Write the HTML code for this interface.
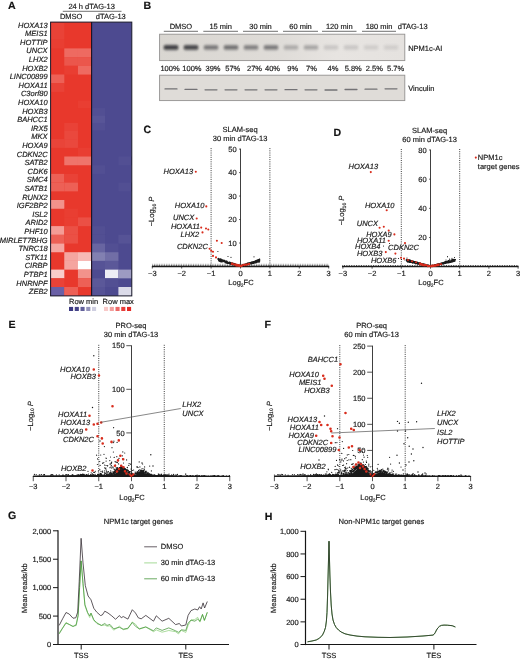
<!DOCTYPE html>
<html><head><meta charset="utf-8"><title>Figure</title>
<style>
html,body{margin:0;padding:0;background:#fff;}
body{width:520px;height:660px;overflow:hidden;}
svg{display:block;font-family:"Liberation Sans",sans-serif;font-size:7.5px;fill:#1c1c1c;text-rendering:geometricPrecision;}
text{stroke:#1c1c1c;stroke-width:0.18px;}
</style></head><body>
<svg width="520" height="660" viewBox="0 0 520 660">
<rect width="520" height="660" fill="#ffffff"/>
<text x="8.00" y="9.00" font-weight="bold" font-size="10.6" fill="#111">A</text>
<text x="143.50" y="9.00" font-weight="bold" font-size="10.6" fill="#111">B</text>
<text x="143.40" y="132.60" font-weight="bold" font-size="10.6" fill="#111">C</text>
<text x="333.50" y="136.00" font-weight="bold" font-size="10.6" fill="#111">D</text>
<text x="8.40" y="327.80" font-weight="bold" font-size="10.6" fill="#111">E</text>
<text x="264.50" y="327.90" font-weight="bold" font-size="10.6" fill="#111">F</text>
<text x="8.00" y="519.40" font-weight="bold" font-size="10.6" fill="#111">G</text>
<text x="264.70" y="520.00" font-weight="bold" font-size="10.6" fill="#111">H</text>
<rect x="50.60" y="22.10" width="41.00" height="273.80" fill="#e8382c"/>
<rect x="91.60" y="22.10" width="40.20" height="273.80" fill="#4d4a90"/>
<rect x="50.60" y="22.10" width="13.72" height="8.95" fill="#e94237"/>
<text x="47.60" y="27.50" font-style="italic" text-anchor="end">HOXA13</text>
<rect x="50.60" y="31.00" width="13.72" height="8.75" fill="#e94237"/>
<text x="47.60" y="36.10" font-style="italic" text-anchor="end">MEIS1</text>
<rect x="50.60" y="39.70" width="13.72" height="8.75" fill="#e93e32"/>
<text x="47.60" y="44.70" font-style="italic" text-anchor="end">HOTTIP</text>
<rect x="64.27" y="48.40" width="13.72" height="8.75" fill="#ee6a61"/>
<rect x="77.93" y="48.40" width="13.72" height="8.75" fill="#ee6a61"/>
<text x="47.60" y="53.30" font-style="italic" text-anchor="end">UNCX</text>
<rect x="64.27" y="57.10" width="13.72" height="8.75" fill="#eb564c"/>
<rect x="77.93" y="57.10" width="13.72" height="8.75" fill="#eb564c"/>
<text x="47.60" y="61.90" font-style="italic" text-anchor="end">LHX2</text>
<rect x="64.27" y="65.80" width="13.72" height="8.75" fill="#e93e32"/>
<rect x="77.93" y="65.80" width="13.72" height="8.75" fill="#ee6a61"/>
<text x="47.60" y="70.50" font-style="italic" text-anchor="end">HOXB2</text>
<rect x="50.60" y="74.50" width="13.72" height="8.75" fill="#ed6056"/>
<text x="47.60" y="79.10" font-style="italic" text-anchor="end">LINC00899</text>
<rect x="50.60" y="83.20" width="13.72" height="8.75" fill="#e94237"/>
<text x="47.60" y="87.70" font-style="italic" text-anchor="end">HOXA11</text>
<text x="47.60" y="96.30" font-style="italic" text-anchor="end">C3orf80</text>
<rect x="77.93" y="100.60" width="13.72" height="7.50" fill="#e93e32"/>
<text x="47.60" y="104.90" font-style="italic" text-anchor="end">HOXA10</text>
<rect x="91.60" y="108.05" width="13.45" height="7.50" fill="#524f93"/>
<text x="47.60" y="113.50" font-style="italic" text-anchor="end">HOXB3</text>
<rect x="91.60" y="115.50" width="13.45" height="7.50" fill="#585597"/>
<text x="47.60" y="122.10" font-style="italic" text-anchor="end">BAHCC1</text>
<rect x="64.27" y="122.95" width="13.72" height="7.50" fill="#e94237"/>
<rect x="91.60" y="122.95" width="13.45" height="7.50" fill="#524f93"/>
<text x="47.60" y="130.70" font-style="italic" text-anchor="end">IRX5</text>
<rect x="64.27" y="130.40" width="13.72" height="8.75" fill="#ea483d"/>
<text x="47.60" y="139.30" font-style="italic" text-anchor="end">MKX</text>
<rect x="50.60" y="139.10" width="13.72" height="8.75" fill="#e94439"/>
<rect x="64.27" y="139.10" width="13.72" height="8.75" fill="#ea483d"/>
<text x="47.60" y="147.90" font-style="italic" text-anchor="end">HOXA9</text>
<rect x="77.93" y="147.80" width="13.72" height="8.75" fill="#e93e32"/>
<text x="47.60" y="156.50" font-style="italic" text-anchor="end">CDKN2C</text>
<rect x="64.27" y="156.50" width="13.72" height="8.75" fill="#ef746b"/>
<rect x="77.93" y="156.50" width="13.72" height="8.75" fill="#ef746b"/>
<rect x="118.40" y="156.50" width="13.45" height="8.75" fill="#524f93"/>
<text x="47.60" y="165.10" font-style="italic" text-anchor="end">SATB2</text>
<rect x="91.60" y="165.20" width="13.45" height="8.75" fill="#524f93"/>
<text x="47.60" y="173.70" font-style="italic" text-anchor="end">CDK6</text>
<rect x="50.60" y="173.90" width="13.72" height="8.75" fill="#ed6056"/>
<rect x="64.27" y="173.90" width="13.72" height="8.75" fill="#e94237"/>
<text x="47.60" y="182.30" font-style="italic" text-anchor="end">SMC4</text>
<rect x="50.60" y="182.60" width="13.72" height="8.75" fill="#ed6056"/>
<rect x="64.27" y="182.60" width="13.72" height="8.75" fill="#ed6056"/>
<rect x="118.40" y="182.60" width="13.45" height="8.75" fill="#524f93"/>
<text x="47.60" y="190.90" font-style="italic" text-anchor="end">SATB1</text>
<text x="47.60" y="199.50" font-style="italic" text-anchor="end">RUNX2</text>
<rect x="50.60" y="200.00" width="13.72" height="8.75" fill="#f2928b"/>
<text x="47.60" y="208.10" font-style="italic" text-anchor="end">IGF2BP2</text>
<rect x="64.27" y="208.70" width="13.72" height="8.75" fill="#e93e32"/>
<text x="47.60" y="216.70" font-style="italic" text-anchor="end">ISL2</text>
<rect x="64.27" y="217.40" width="13.72" height="8.75" fill="#e93e32"/>
<rect x="77.93" y="217.40" width="13.72" height="8.75" fill="#eb5045"/>
<text x="47.60" y="225.30" font-style="italic" text-anchor="end">ARID2</text>
<rect x="50.60" y="226.10" width="13.72" height="8.75" fill="#f49c96"/>
<rect x="64.27" y="226.10" width="13.72" height="8.75" fill="#eb5045"/>
<rect x="91.60" y="226.10" width="13.45" height="8.75" fill="#524f93"/>
<text x="47.60" y="233.90" font-style="italic" text-anchor="end">PHF10</text>
<rect x="50.60" y="234.80" width="13.72" height="8.75" fill="#ed6056"/>
<rect x="64.27" y="234.80" width="13.72" height="8.75" fill="#eb5045"/>
<rect x="91.60" y="234.80" width="13.45" height="8.75" fill="#524f93"/>
<rect x="118.40" y="234.80" width="13.45" height="8.75" fill="#565396"/>
<text x="47.60" y="242.50" font-style="italic" text-anchor="end">MIRLET7BHG</text>
<rect x="50.60" y="243.50" width="13.72" height="8.75" fill="#f5a5a0"/>
<rect x="91.60" y="243.50" width="13.45" height="8.75" fill="#6865a1"/>
<rect x="105.00" y="243.50" width="13.45" height="8.75" fill="#524f93"/>
<text x="47.60" y="251.10" font-style="italic" text-anchor="end">TNRC18</text>
<rect x="64.27" y="252.20" width="13.72" height="8.75" fill="#f5a5a0"/>
<rect x="77.93" y="252.20" width="13.72" height="8.75" fill="#f7b9b5"/>
<rect x="91.60" y="252.20" width="13.45" height="8.75" fill="#8280b1"/>
<rect x="105.00" y="252.20" width="13.45" height="8.75" fill="#716ea6"/>
<text x="47.60" y="259.70" font-style="italic" text-anchor="end">STK11</text>
<rect x="64.27" y="260.90" width="13.72" height="8.75" fill="#f5a5a0"/>
<rect x="77.93" y="260.90" width="13.72" height="8.75" fill="#ffffff"/>
<rect x="91.60" y="260.90" width="13.45" height="8.75" fill="#565396"/>
<rect x="105.00" y="260.90" width="13.45" height="8.75" fill="#5b5899"/>
<text x="47.60" y="268.30" font-style="italic" text-anchor="end">CIRBP</text>
<rect x="50.60" y="269.60" width="13.72" height="8.75" fill="#f9cdca"/>
<rect x="77.93" y="269.60" width="13.72" height="8.75" fill="#f2928b"/>
<rect x="105.00" y="269.60" width="13.45" height="8.75" fill="#ededf4"/>
<rect x="118.40" y="269.60" width="13.45" height="8.75" fill="#9d9bc2"/>
<text x="47.60" y="276.90" font-style="italic" text-anchor="end">PTBP1</text>
<rect x="50.60" y="278.30" width="13.72" height="8.75" fill="#e94237"/>
<rect x="77.93" y="278.30" width="13.72" height="8.75" fill="#ed6056"/>
<rect x="91.60" y="278.30" width="13.45" height="8.75" fill="#5b5899"/>
<rect x="105.00" y="278.30" width="13.45" height="8.75" fill="#524f93"/>
<text x="47.60" y="285.50" font-style="italic" text-anchor="end">HNRNPF</text>
<rect x="50.60" y="287.00" width="13.72" height="8.95" fill="#6a60a6"/>
<rect x="64.27" y="287.00" width="13.72" height="8.95" fill="#ed6056"/>
<rect x="91.60" y="287.00" width="13.45" height="8.95" fill="#565396"/>
<rect x="118.40" y="287.00" width="13.45" height="8.95" fill="#dbdbe9"/>
<text x="47.60" y="294.10" font-style="italic" text-anchor="end">ZEB2</text>
<rect x="50.6" y="22.1" width="81.20" height="273.80" fill="none" stroke="#1a1a2a" stroke-width="1"/>
<line x1="91.60" y1="22.10" x2="91.60" y2="295.90" stroke="#1a1020" stroke-width="1.1"/>
<text x="91.70" y="9.00" text-anchor="middle">24 h dTAG-13</text>
<line x1="62.80" y1="11.30" x2="121.50" y2="11.30" stroke="#333" stroke-width="0.7"/>
<text x="71.20" y="19.00" text-anchor="middle">DMSO</text>
<text x="110.80" y="19.00" text-anchor="middle">dTAG-13</text>
<text x="69.00" y="304.20">Row min</text>
<text x="102.60" y="304.20">Row max</text>
<rect x="69.00" y="306.90" width="4.10" height="4.10" fill="#3c3a82"/>
<rect x="74.75" y="306.90" width="4.10" height="4.10" fill="#464488"/>
<rect x="80.50" y="306.90" width="4.10" height="4.10" fill="#63619b"/>
<rect x="86.25" y="306.90" width="4.10" height="4.10" fill="#9493ba"/>
<rect x="92.00" y="306.90" width="4.10" height="4.10" fill="#cecee0"/>
<rect x="104.00" y="306.90" width="4.10" height="4.10" fill="#f8c9c8"/>
<rect x="109.75" y="306.90" width="4.10" height="4.10" fill="#f39e9c"/>
<rect x="115.50" y="306.90" width="4.10" height="4.10" fill="#ec6866"/>
<rect x="121.25" y="306.90" width="4.10" height="4.10" fill="#e73e3a"/>
<rect x="127.00" y="306.90" width="4.10" height="4.10" fill="#e42824"/>
<defs><filter id="b1" x="-30%" y="-80%" width="160%" height="260%"><feGaussianBlur stdDeviation="0.9 0.8"/></filter><filter id="b2" x="-30%" y="-200%" width="160%" height="500%"><feGaussianBlur stdDeviation="0.45"/></filter><linearGradient id="g1" x1="0" x2="1" y1="0" y2="0"><stop offset="0" stop-color="#d9d6d1"/><stop offset="0.5" stop-color="#dfdcd8"/><stop offset="0.72" stop-color="#e7e4e1"/><stop offset="1" stop-color="#e5e2df"/></linearGradient></defs>
<rect x="159.6" y="34.2" width="245.2" height="26.4" fill="url(#g1)" stroke="#939190" stroke-width="0.9"/>
<rect x="159.6" y="75.2" width="245.2" height="25.4" fill="#dfdcd8" stroke="#939190" stroke-width="0.9"/>
<rect x="163.6" y="44.4" width="14.8" height="6.2" rx="2" fill="#58585c" opacity="0.66" filter="url(#b1)"/>
<rect x="164.2" y="45.9" width="13.6" height="2.8" rx="1.2" fill="#1e1e22" opacity="0.75" filter="url(#b1)"/>
<rect x="183.6" y="44.4" width="14.8" height="6.2" rx="2" fill="#58585c" opacity="0.61" filter="url(#b1)"/>
<rect x="184.2" y="45.9" width="13.6" height="2.8" rx="1.2" fill="#1e1e22" opacity="0.69" filter="url(#b1)"/>
<rect x="203.6" y="44.4" width="14.8" height="6.2" rx="2" fill="#58585c" opacity="0.36" filter="url(#b1)"/>
<rect x="204.2" y="45.9" width="13.6" height="2.8" rx="1.2" fill="#1e1e22" opacity="0.39" filter="url(#b1)"/>
<rect x="223.6" y="44.4" width="14.8" height="6.2" rx="2" fill="#58585c" opacity="0.39" filter="url(#b1)"/>
<rect x="224.2" y="45.9" width="13.6" height="2.8" rx="1.2" fill="#1e1e22" opacity="0.43" filter="url(#b1)"/>
<rect x="243.6" y="44.4" width="14.8" height="6.2" rx="2" fill="#58585c" opacity="0.33" filter="url(#b1)"/>
<rect x="244.2" y="45.9" width="13.6" height="2.8" rx="1.2" fill="#1e1e22" opacity="0.35" filter="url(#b1)"/>
<rect x="263.6" y="44.4" width="14.8" height="6.2" rx="2" fill="#58585c" opacity="0.36" filter="url(#b1)"/>
<rect x="264.2" y="45.9" width="13.6" height="2.8" rx="1.2" fill="#1e1e22" opacity="0.39" filter="url(#b1)"/>
<rect x="283.6" y="44.4" width="14.8" height="6.2" rx="2" fill="#58585c" opacity="0.18" filter="url(#b1)"/>
<rect x="284.2" y="45.9" width="13.6" height="2.8" rx="1.2" fill="#1e1e22" opacity="0.17" filter="url(#b1)"/>
<rect x="303.6" y="44.4" width="14.8" height="6.2" rx="2" fill="#58585c" opacity="0.20" filter="url(#b1)"/>
<rect x="304.2" y="45.9" width="13.6" height="2.8" rx="1.2" fill="#1e1e22" opacity="0.20" filter="url(#b1)"/>
<rect x="323.6" y="44.4" width="14.8" height="6.2" rx="2" fill="#58585c" opacity="0.10" filter="url(#b1)"/>
<rect x="324.2" y="45.9" width="13.6" height="2.8" rx="1.2" fill="#1e1e22" opacity="0.08" filter="url(#b1)"/>
<rect x="343.6" y="44.4" width="14.8" height="6.2" rx="2" fill="#58585c" opacity="0.10" filter="url(#b1)"/>
<rect x="344.2" y="45.9" width="13.6" height="2.8" rx="1.2" fill="#1e1e22" opacity="0.08" filter="url(#b1)"/>
<rect x="363.6" y="44.4" width="14.8" height="6.2" rx="2" fill="#58585c" opacity="0.08" filter="url(#b1)"/>
<rect x="364.2" y="45.9" width="13.6" height="2.8" rx="1.2" fill="#1e1e22" opacity="0.06" filter="url(#b1)"/>
<rect x="383.6" y="44.4" width="14.8" height="6.2" rx="2" fill="#58585c" opacity="0.08" filter="url(#b1)"/>
<rect x="384.2" y="45.9" width="13.6" height="2.8" rx="1.2" fill="#1e1e22" opacity="0.05" filter="url(#b1)"/>
<rect x="164.4" y="88.25" width="13.2" height="1.3" rx="0.6" fill="#505055" opacity="0.75" filter="url(#b2)"/>
<rect x="184.4" y="88.75" width="13.2" height="1.3" rx="0.6" fill="#505055" opacity="0.75" filter="url(#b2)"/>
<rect x="204.4" y="89.15" width="13.2" height="1.3" rx="0.6" fill="#505055" opacity="0.75" filter="url(#b2)"/>
<rect x="224.4" y="89.15" width="13.2" height="1.3" rx="0.6" fill="#505055" opacity="0.75" filter="url(#b2)"/>
<rect x="244.4" y="89.15" width="13.2" height="1.3" rx="0.6" fill="#505055" opacity="0.75" filter="url(#b2)"/>
<rect x="264.4" y="89.15" width="13.2" height="1.3" rx="0.6" fill="#505055" opacity="0.75" filter="url(#b2)"/>
<rect x="284.4" y="88.95" width="13.2" height="1.3" rx="0.6" fill="#505055" opacity="0.75" filter="url(#b2)"/>
<rect x="304.4" y="89.15" width="13.2" height="1.3" rx="0.6" fill="#505055" opacity="0.75" filter="url(#b2)"/>
<rect x="324.4" y="89.35" width="13.2" height="1.3" rx="0.6" fill="#505055" opacity="0.75" filter="url(#b2)"/>
<rect x="344.4" y="88.85" width="13.2" height="1.3" rx="0.6" fill="#505055" opacity="0.75" filter="url(#b2)"/>
<rect x="364.4" y="88.55" width="13.2" height="1.3" rx="0.6" fill="#505055" opacity="0.75" filter="url(#b2)"/>
<rect x="384.4" y="88.15" width="13.2" height="1.3" rx="0.6" fill="#505055" opacity="0.75" filter="url(#b2)"/>
<line x1="163.80" y1="31.30" x2="198.00" y2="31.30" stroke="#333" stroke-width="0.7"/>
<text x="180.90" y="29.00" text-anchor="middle">DMSO</text>
<line x1="203.30" y1="31.30" x2="238.00" y2="31.30" stroke="#333" stroke-width="0.7"/>
<text x="220.65" y="29.00" text-anchor="middle">15 min</text>
<line x1="243.00" y1="31.30" x2="278.00" y2="31.30" stroke="#333" stroke-width="0.7"/>
<text x="260.50" y="29.00" text-anchor="middle">30 min</text>
<line x1="283.00" y1="31.30" x2="318.00" y2="31.30" stroke="#333" stroke-width="0.7"/>
<text x="300.50" y="29.00" text-anchor="middle">60 min</text>
<line x1="322.00" y1="31.30" x2="356.50" y2="31.30" stroke="#333" stroke-width="0.7"/>
<text x="339.25" y="29.00" text-anchor="middle">120 min</text>
<line x1="362.00" y1="31.30" x2="396.00" y2="31.30" stroke="#333" stroke-width="0.7"/>
<text x="379.00" y="29.00" text-anchor="middle">180 min</text>
<text x="397.80" y="28.90">dTAG-13</text>
<text x="170.00" y="71.20" text-anchor="middle">100%</text>
<text x="191.90" y="71.20" text-anchor="middle">100%</text>
<text x="213.00" y="71.20" text-anchor="middle">39%</text>
<text x="232.75" y="71.20" text-anchor="middle">57%</text>
<text x="254.50" y="71.20" text-anchor="middle">27%</text>
<text x="272.50" y="71.20" text-anchor="middle">40%</text>
<text x="292.75" y="71.20" text-anchor="middle">9%</text>
<text x="311.50" y="71.20" text-anchor="middle">7%</text>
<text x="333.00" y="71.20" text-anchor="middle">4%</text>
<text x="353.25" y="71.20" text-anchor="middle">5.8%</text>
<text x="374.40" y="71.20" text-anchor="middle">2.5%</text>
<text x="395.60" y="71.20" text-anchor="middle">5.7%</text>
<text x="408.20" y="50.60">NPM1c-AI</text>
<text x="408.20" y="90.90">Vinculin</text>
<line x1="152.30" y1="264.30" x2="328.80" y2="264.30" stroke="#555" stroke-width="0.7" stroke-dasharray="0.8 0.9"/>
<line x1="152.30" y1="265.60" x2="328.80" y2="265.60" stroke="#222" stroke-width="0.8" stroke-dasharray="0.9 0.8"/>
<line x1="240.50" y1="148.70" x2="240.50" y2="266.50" stroke="#2a2a2a" stroke-width="0.9"/>
<line x1="151.90" y1="266.50" x2="329.20" y2="266.50" stroke="#1a1a1a" stroke-width="1.3"/>
<line x1="239.10" y1="243.02" x2="240.50" y2="243.02" stroke="#2a2a2a" stroke-width="0.8"/>
<text x="236.70" y="245.72" text-anchor="end">10</text>
<line x1="239.10" y1="219.54" x2="240.50" y2="219.54" stroke="#2a2a2a" stroke-width="0.8"/>
<text x="236.70" y="222.24" text-anchor="end">20</text>
<line x1="239.10" y1="196.06" x2="240.50" y2="196.06" stroke="#2a2a2a" stroke-width="0.8"/>
<text x="236.70" y="198.76" text-anchor="end">30</text>
<line x1="239.10" y1="172.58" x2="240.50" y2="172.58" stroke="#2a2a2a" stroke-width="0.8"/>
<text x="236.70" y="175.28" text-anchor="end">40</text>
<line x1="239.10" y1="149.10" x2="240.50" y2="149.10" stroke="#2a2a2a" stroke-width="0.8"/>
<text x="236.70" y="151.80" text-anchor="end">50</text>
<line x1="152.30" y1="266.50" x2="152.30" y2="268.50" stroke="#2a2a2a" stroke-width="0.8"/>
<text x="152.30" y="275.70" text-anchor="middle">−3</text>
<line x1="181.70" y1="266.50" x2="181.70" y2="268.50" stroke="#2a2a2a" stroke-width="0.8"/>
<text x="181.70" y="275.70" text-anchor="middle">−2</text>
<line x1="211.10" y1="266.50" x2="211.10" y2="268.50" stroke="#2a2a2a" stroke-width="0.8"/>
<text x="211.10" y="275.70" text-anchor="middle">−1</text>
<line x1="240.50" y1="266.50" x2="240.50" y2="268.50" stroke="#2a2a2a" stroke-width="0.8"/>
<text x="240.50" y="275.70" text-anchor="middle">0</text>
<line x1="269.90" y1="266.50" x2="269.90" y2="268.50" stroke="#2a2a2a" stroke-width="0.8"/>
<text x="269.90" y="275.70" text-anchor="middle">1</text>
<line x1="299.30" y1="266.50" x2="299.30" y2="268.50" stroke="#2a2a2a" stroke-width="0.8"/>
<text x="299.30" y="275.70" text-anchor="middle">2</text>
<line x1="328.70" y1="266.50" x2="328.70" y2="268.50" stroke="#2a2a2a" stroke-width="0.8"/>
<text x="328.70" y="275.70" text-anchor="middle">3</text>
<line x1="211.10" y1="148.10" x2="211.10" y2="266.50" stroke="#262626" stroke-width="0.9" stroke-dasharray="1.0 1.2"/>
<line x1="269.90" y1="148.10" x2="269.90" y2="266.50" stroke="#262626" stroke-width="0.9" stroke-dasharray="1.0 1.2"/>
<text x="240.10" y="132.10" text-anchor="middle">SLAM-seq</text>
<text x="240.10" y="140.70" text-anchor="middle">30 min dTAG-13</text>
<text x="228.30" y="285.10">Log<tspan font-size="5" dy="1.6">2</tspan><tspan dy="-1.6">FC</tspan></text>
<text transform="translate(153.90,211.50) rotate(-90)" text-anchor="middle">−Log<tspan font-size="5" dy="1.6">10</tspan><tspan dy="-1.6"> </tspan><tspan font-style="italic">P</tspan></text>
<path d="M217.9 251.5h0M228.0 256.5h0M231.0 257.3h0M254.0 256.8h0" fill="none" stroke="#1a1a1a" stroke-width="1.20" stroke-linecap="round"/>
<path d="M235.5 264.5h0M226.8 262.5h0M227.3 263.3h0M237.8 265.7h0M221.1 261.5h0M224.9 260.7h0M249.6 262.6h0M220.5 260.9h0M236.4 265.1h0M245.4 264.5h0M249.2 263.5h0M238.1 265.7h0M250.2 263.7h0M250.6 263.6h0M254.8 262.6h0M251.9 262.1h0M247.6 263.3h0M229.2 262.5h0M227.7 263.4h0M255.9 261.5h0M248.1 263.6h0M252.9 262.7h0M258.8 260.8h0M242.5 265.1h0M259.5 259.6h0M229.9 262.8h0M228.3 263.3h0M238.1 265.0h0M233.1 264.2h0M243.0 265.3h0M257.8 260.2h0M247.4 264.3h0M220.0 259.0h0M234.9 264.9h0M227.8 262.3h0M240.2 265.8h0M226.1 261.1h0M251.7 262.6h0M242.3 265.0h0M257.7 260.3h0M229.6 263.8h0M242.6 265.9h0M235.2 264.8h0M240.5 266.1h0M230.4 264.1h0M253.4 263.2h0M230.8 263.6h0M220.6 259.1h0M227.8 263.4h0M230.9 263.8h0M244.9 265.4h0M252.0 263.6h0M241.6 265.6h0M257.5 260.6h0M230.4 263.9h0M252.0 262.2h0M233.7 263.7h0M257.3 260.4h0M255.5 262.4h0M230.6 264.2h0M232.3 264.2h0M258.9 260.9h0M259.4 259.3h0M233.7 264.6h0M234.1 264.1h0M257.1 261.3h0M256.5 262.5h0M258.2 260.2h0M251.1 263.7h0M248.4 263.3h0M249.6 263.7h0M255.3 262.6h0M235.5 264.1h0M244.6 264.4h0M254.2 262.5h0M244.3 265.6h0M254.0 262.1h0M250.3 262.6h0M246.0 264.9h0M233.3 263.9h0M229.2 263.6h0M248.8 263.8h0M258.1 261.2h0M251.5 262.9h0M239.6 265.7h0M240.2 265.5h0M228.1 262.1h0M248.3 263.8h0M256.2 262.5h0M246.8 264.6h0M251.6 262.8h0M258.3 261.1h0M251.6 262.9h0M250.6 263.1h0M218.9 259.3h0M258.7 261.4h0M258.7 259.8h0M236.3 264.9h0M233.3 264.7h0M256.2 260.6h0M223.2 260.8h0M220.0 258.9h0M218.7 260.0h0M218.0 258.6h0M228.9 262.8h0M234.4 264.6h0M241.3 265.6h0M239.6 265.8h0M251.7 263.8h0M256.3 260.4h0M232.7 264.6h0M247.2 264.8h0M219.5 259.2h0M235.6 264.1h0M254.9 262.9h0M223.7 261.5h0M219.0 259.5h0M243.1 264.8h0M220.4 260.4h0M226.4 261.2h0M236.1 264.8h0M236.6 265.4h0M234.2 264.6h0M222.3 261.4h0M234.8 264.7h0M233.0 264.8h0M252.4 263.4h0M219.1 260.9h0M250.3 263.3h0M249.6 263.5h0M259.3 261.0h0M255.0 261.6h0M230.8 264.2h0M237.8 264.9h0M235.2 265.2h0M257.6 260.7h0M233.2 264.4h0M235.3 264.7h0M218.6 258.4h0M246.7 263.6h0M230.6 264.2h0M228.0 262.6h0M227.4 263.4h0M237.2 265.2h0M239.4 265.8h0M225.7 261.9h0M254.2 261.7h0M249.5 263.9h0M244.7 264.5h0M242.1 265.1h0M253.7 261.8h0M244.4 264.9h0M220.9 259.7h0M252.9 261.7h0M254.8 262.6h0M236.0 265.0h0M220.9 260.3h0M253.6 261.9h0M240.3 265.5h0M251.5 262.9h0M242.7 265.1h0M237.7 265.5h0M245.9 264.2h0M251.4 263.2h0M223.8 260.7h0M253.9 263.2h0M232.9 263.6h0M226.1 263.1h0M232.6 263.6h0M254.5 262.6h0M228.2 262.7h0M219.8 260.9h0M258.6 262.1h0M221.2 259.3h0M232.6 264.3h0M246.0 264.4h0M227.0 261.4h0M221.2 260.5h0M254.9 262.6h0M251.2 264.0h0M227.7 262.6h0M235.8 264.9h0M220.8 261.7h0M257.1 262.2h0M255.1 260.9h0M230.2 263.4h0M253.0 262.8h0M232.4 264.6h0M220.9 261.0h0M246.8 264.7h0M234.5 264.6h0M257.8 260.2h0M258.3 259.7h0M255.2 262.9h0M250.6 262.7h0M247.5 264.8h0M244.2 265.0h0M231.9 263.3h0M247.0 264.0h0M226.3 262.3h0M235.2 265.0h0M251.4 263.5h0M259.6 260.7h0M234.4 265.0h0M237.2 265.4h0M226.1 261.2h0M249.9 263.6h0M230.1 263.5h0M232.4 263.1h0M227.4 262.1h0M246.1 264.8h0M229.6 263.2h0M257.3 260.3h0M239.0 265.3h0M251.0 262.9h0M229.8 262.3h0M257.4 260.0h0M236.7 265.4h0M223.8 260.3h0M254.0 261.6h0M226.4 263.1h0M246.4 263.7h0M247.9 264.6h0M224.7 261.2h0M237.8 265.2h0M249.5 264.0h0M241.0 265.9h0M218.6 259.3h0M251.0 263.6h0M218.6 259.2h0M239.4 265.6h0M250.0 263.8h0M258.5 261.6h0M231.0 263.6h0M245.7 264.1h0M251.6 263.5h0M248.0 263.4h0M233.7 263.8h0M218.7 259.8h0M233.7 264.3h0M258.8 261.7h0M233.9 263.5h0M238.4 265.9h0M219.7 259.1h0M259.6 259.3h0M234.6 263.8h0M241.7 265.4h0M230.2 263.5h0M240.3 266.0h0M218.7 260.8h0M245.9 264.7h0M256.8 261.5h0M228.1 262.8h0M245.6 264.8h0M241.7 265.7h0M256.0 262.8h0M238.0 264.8h0M222.6 260.0h0M232.5 263.1h0M247.0 263.9h0M232.4 264.6h0M258.3 260.5h0M241.5 265.9h0M218.6 258.5h0M233.0 264.1h0M219.2 260.8h0M255.5 261.0h0M253.3 262.8h0M230.5 262.8h0M234.3 264.0h0M238.0 265.8h0M248.3 263.0h0M259.4 261.2h0M237.0 265.0h0M250.5 263.7h0M225.1 261.3h0M257.2 260.8h0M220.8 260.9h0M249.2 263.2h0M233.1 264.4h0M220.0 260.0h0M229.7 262.2h0M233.5 263.6h0M259.5 261.7h0M221.2 259.7h0M242.0 265.7h0M234.5 263.7h0M258.5 261.2h0M250.6 263.7h0M258.8 261.8h0M253.5 263.0h0M235.8 265.1h0M225.5 261.5h0M239.9 265.9h0M245.5 264.9h0M221.7 260.6h0M236.9 265.1h0M253.9 263.2h0M223.6 261.5h0M231.7 262.9h0M226.1 262.3h0M220.4 259.0h0M234.3 264.0h0M240.1 265.3h0M221.2 260.8h0M250.8 263.8h0M226.4 261.8h0M243.3 265.1h0M227.4 263.1h0M227.1 261.4h0M227.7 261.9h0M245.7 265.1h0M259.2 260.7h0M219.2 260.2h0M253.5 261.6h0M221.8 261.4h0M220.7 259.5h0M233.8 264.4h0M230.0 263.8h0M223.0 260.1h0M226.2 261.5h0M220.8 261.4h0M252.3 262.4h0M229.2 262.8h0M224.3 261.6h0M239.4 265.5h0M233.4 263.7h0M250.7 263.8h0M236.7 265.4h0M237.2 265.1h0M238.7 265.3h0M222.8 260.4h0M238.3 265.3h0M218.8 260.8h0M259.6 259.9h0M245.6 263.9h0M218.7 258.6h0M221.8 259.6h0M230.7 262.9h0M219.8 260.7h0M244.5 264.9h0M245.9 264.9h0M231.4 264.3h0M235.2 264.0h0M258.0 261.9h0M243.9 265.0h0M248.9 263.0h0M252.9 261.7h0M218.0 259.2h0M221.6 261.3h0M252.8 262.9h0M250.4 263.9h0M242.2 265.1h0M224.7 260.5h0M254.3 262.6h0M239.0 265.9h0M250.3 263.3h0M244.3 265.3h0M241.4 266.2h0M236.7 265.2h0M225.8 261.7h0M225.0 261.7h0M219.0 260.6h0M237.0 264.9h0M256.2 261.8h0M239.9 265.5h0M248.8 263.5h0M219.0 259.2h0M219.6 261.3h0M229.5 263.5h0M222.0 262.0h0M258.7 261.8h0M225.3 261.8h0M256.7 262.2h0M231.9 264.4h0M256.2 261.0h0M220.7 259.8h0M222.7 261.1h0M236.8 265.3h0M231.1 263.0h0M257.2 260.7h0M226.4 262.2h0M251.9 263.3h0M259.1 261.4h0M241.2 265.9h0M222.6 259.9h0M248.3 263.2h0M233.3 263.4h0M254.7 261.6h0M250.9 262.4h0M257.4 261.3h0M252.7 263.0h0M225.0 262.6h0M244.6 265.5h0M219.2 260.3h0M239.2 266.0h0M253.8 261.8h0M242.7 265.2h0M221.2 259.7h0M242.7 264.9h0M258.8 261.8h0M236.6 265.5h0M256.7 261.1h0M253.7 262.8h0M237.0 264.7h0M231.4 263.7h0M232.9 264.3h0M249.1 264.0h0M251.5 262.2h0M241.7 265.7h0M222.1 261.2h0M252.1 263.4h0M243.3 264.8h0M240.4 266.1h0M259.3 262.0h0M227.7 261.9h0M227.6 262.8h0M247.0 263.5h0M233.9 263.9h0M236.6 264.8h0" fill="none" stroke="#1a1a1a" stroke-width="1.40" stroke-linecap="round"/>
<path d="M239.8 265.6h0M243.7 264.5h0M232.4 264.2h0M246.4 265.0h0M238.1 265.6h0M232.4 263.3h0M239.3 266.0h0M237.5 264.7h0M244.6 265.5h0M244.5 264.9h0M241.6 265.5h0M234.2 264.8h0M233.6 264.0h0M249.4 263.7h0M237.3 265.5h0M238.8 266.1h0M234.5 264.7h0M249.5 263.5h0M236.5 265.7h0M248.8 264.5h0M237.0 265.9h0M248.3 263.8h0M245.1 265.0h0M241.8 266.5h0M242.7 265.1h0M245.9 264.2h0M234.4 264.2h0M246.3 264.7h0M238.1 264.8h0M242.7 265.1h0M246.2 264.1h0M236.1 264.7h0M236.8 264.5h0M237.5 265.5h0M236.0 265.7h0M235.5 264.5h0M231.8 263.9h0M241.4 265.7h0M234.0 264.2h0M248.1 264.3h0M231.9 263.1h0M238.8 265.2h0M234.9 265.0h0M237.0 265.9h0M244.3 264.9h0M246.7 265.1h0M243.3 264.6h0M235.7 264.0h0M249.3 264.3h0M239.3 265.2h0M246.3 264.4h0M233.9 264.6h0M246.3 264.6h0M237.8 264.9h0M236.2 265.3h0M243.9 264.4h0M246.7 265.3h0M247.1 264.6h0M246.5 264.6h0M236.6 264.8h0M243.8 264.6h0M241.0 265.4h0M241.8 265.5h0M240.4 266.4h0M241.2 266.2h0M239.6 265.2h0M242.2 265.8h0M241.9 265.2h0M239.0 265.4h0M248.6 264.5h0M234.2 264.1h0M236.5 264.9h0M238.1 264.9h0M236.2 265.0h0M248.8 264.4h0M239.0 266.2h0M243.4 265.0h0M248.2 264.3h0M231.4 264.3h0M237.2 266.0h0" fill="none" stroke="#d82c1c" stroke-width="1.60" stroke-linecap="round"/>
<path d="M195.8 171.7h0M206.3 206.4h0M196.7 218.5h0M201.2 227.6h0M206.0 228.5h0M208.3 229.5h0M202.5 232.4h0M216.9 240.7h0M221.7 243.0h0M209.6 248.7h0M211.2 250.7h0M213.0 251.7h0M213.0 255.9h0M216.0 257.4h0" fill="none" stroke="#d82c1c" stroke-width="2.10" stroke-linecap="round"/>
<text x="193.20" y="174.40" font-style="italic" text-anchor="end">HOXA13</text>
<text x="204.40" y="208.20" font-style="italic" text-anchor="end">HOXA10</text>
<text x="194.30" y="220.10" font-style="italic" text-anchor="end">UNCX</text>
<text x="200.00" y="229.20" font-style="italic" text-anchor="end">HOXA11</text>
<text x="199.30" y="236.60" font-style="italic" text-anchor="end">LHX2</text>
<text x="207.80" y="249.10" font-style="italic" text-anchor="end">CDKN2C</text>
<line x1="342.40" y1="265.60" x2="518.20" y2="265.60" stroke="#222" stroke-width="1.0" stroke-dasharray="0.9 0.8"/>
<line x1="430.50" y1="149.60" x2="430.50" y2="266.70" stroke="#2a2a2a" stroke-width="0.9"/>
<line x1="342.00" y1="266.70" x2="518.60" y2="266.70" stroke="#1a1a1a" stroke-width="1.3"/>
<line x1="429.10" y1="237.52" x2="430.50" y2="237.52" stroke="#2a2a2a" stroke-width="0.8"/>
<text x="426.70" y="240.22" text-anchor="end">20</text>
<line x1="429.10" y1="208.34" x2="430.50" y2="208.34" stroke="#2a2a2a" stroke-width="0.8"/>
<text x="426.70" y="211.04" text-anchor="end">40</text>
<line x1="429.10" y1="179.16" x2="430.50" y2="179.16" stroke="#2a2a2a" stroke-width="0.8"/>
<text x="426.70" y="181.86" text-anchor="end">60</text>
<line x1="429.10" y1="149.98" x2="430.50" y2="149.98" stroke="#2a2a2a" stroke-width="0.8"/>
<text x="426.70" y="152.68" text-anchor="end">80</text>
<line x1="342.90" y1="266.70" x2="342.90" y2="268.70" stroke="#2a2a2a" stroke-width="0.8"/>
<text x="342.90" y="275.90" text-anchor="middle">−3</text>
<line x1="372.10" y1="266.70" x2="372.10" y2="268.70" stroke="#2a2a2a" stroke-width="0.8"/>
<text x="372.10" y="275.90" text-anchor="middle">−2</text>
<line x1="401.30" y1="266.70" x2="401.30" y2="268.70" stroke="#2a2a2a" stroke-width="0.8"/>
<text x="401.30" y="275.90" text-anchor="middle">−1</text>
<line x1="430.50" y1="266.70" x2="430.50" y2="268.70" stroke="#2a2a2a" stroke-width="0.8"/>
<text x="430.50" y="275.90" text-anchor="middle">0</text>
<line x1="459.70" y1="266.70" x2="459.70" y2="268.70" stroke="#2a2a2a" stroke-width="0.8"/>
<text x="459.70" y="275.90" text-anchor="middle">1</text>
<line x1="488.90" y1="266.70" x2="488.90" y2="268.70" stroke="#2a2a2a" stroke-width="0.8"/>
<text x="488.90" y="275.90" text-anchor="middle">2</text>
<line x1="518.10" y1="266.70" x2="518.10" y2="268.70" stroke="#2a2a2a" stroke-width="0.8"/>
<text x="518.10" y="275.90" text-anchor="middle">3</text>
<line x1="401.30" y1="149.00" x2="401.30" y2="266.70" stroke="#262626" stroke-width="0.9" stroke-dasharray="1.0 1.2"/>
<line x1="459.70" y1="149.00" x2="459.70" y2="266.70" stroke="#262626" stroke-width="0.9" stroke-dasharray="1.0 1.2"/>
<text x="429.60" y="133.00" text-anchor="middle">SLAM-seq</text>
<text x="429.60" y="141.60" text-anchor="middle">60 min dTAG-13</text>
<text x="418.30" y="285.30">Log<tspan font-size="5" dy="1.6">2</tspan><tspan dy="-1.6">FC</tspan></text>
<text transform="translate(344.00,210.50) rotate(-90)" text-anchor="middle">−Log<tspan font-size="5" dy="1.6">10</tspan><tspan dy="-1.6"> </tspan><tspan font-style="italic">P</tspan></text>
<path d="M447.5 256.7h0M449.5 259.2h0M452.0 258.3h0M454.5 257.6h0M451.0 260.0h0M455.5 259.5h0M446.0 260.0h0M383.5 246.0h0M389.5 243.5h0M398.5 258.5h0M401.5 259.3h0M405.0 260.0h0M407.0 258.0h0" fill="none" stroke="#1a1a1a" stroke-width="1.20" stroke-linecap="round"/>
<path d="M411.8 260.6h0M434.2 265.3h0M435.7 265.4h0M425.9 265.7h0M440.9 263.3h0M453.3 261.0h0M422.6 265.1h0M420.0 263.8h0M406.9 259.5h0M423.8 264.7h0M424.1 264.5h0M407.1 261.6h0M442.3 263.3h0M415.1 262.8h0M428.4 265.3h0M411.2 262.6h0M445.6 262.8h0M413.0 261.7h0M433.8 265.9h0M447.3 262.8h0M452.4 260.9h0M407.9 262.0h0M435.6 265.3h0M452.3 261.5h0M429.4 265.8h0M453.3 260.5h0M451.5 260.3h0M412.6 262.2h0M412.9 261.9h0M448.1 262.6h0M445.7 263.3h0M408.6 260.6h0M429.9 265.8h0M452.2 261.5h0M417.4 263.6h0M443.5 262.7h0M441.5 263.2h0M435.7 264.7h0M415.5 262.7h0M452.8 259.6h0M429.0 266.2h0M448.7 261.5h0M421.1 263.9h0M451.7 260.7h0M407.5 260.1h0M424.8 264.3h0M407.4 261.5h0M444.1 262.4h0M422.1 263.9h0M421.9 264.1h0M451.1 260.9h0M449.5 262.6h0M409.8 261.1h0M438.5 264.5h0M411.0 262.2h0M412.7 262.4h0M425.0 264.4h0M450.7 261.7h0M408.7 259.8h0M407.0 259.8h0M450.5 261.2h0M445.5 262.6h0M410.7 261.0h0M440.1 264.6h0M412.3 261.0h0M431.1 266.1h0M445.4 262.9h0M419.0 263.5h0M409.8 261.7h0M437.3 265.0h0M410.4 261.9h0M441.3 263.2h0M438.5 263.7h0M409.2 261.4h0M427.3 265.7h0M421.8 264.1h0M423.8 264.2h0M446.5 262.9h0M439.4 264.7h0M414.7 262.3h0M409.6 261.6h0M441.8 264.3h0M419.7 263.4h0M409.6 260.2h0M447.7 261.1h0M434.1 265.6h0M427.0 264.9h0M436.8 264.3h0M423.0 264.2h0M407.7 259.6h0M415.6 263.7h0M438.8 264.2h0M450.2 261.4h0M420.9 264.8h0M411.5 261.5h0M413.5 262.3h0M419.2 263.8h0M418.1 262.8h0M452.9 260.7h0M451.0 261.9h0M433.7 265.3h0M411.5 261.1h0M453.6 260.7h0M427.5 265.0h0M423.0 265.1h0M420.6 263.6h0M417.8 262.6h0M425.3 265.1h0M429.2 265.8h0M410.4 262.0h0M417.7 263.3h0M416.5 262.7h0M453.5 260.3h0M435.0 264.8h0M443.0 263.6h0M422.9 264.7h0M424.9 264.5h0M435.7 264.8h0M416.6 263.0h0M410.7 260.5h0M419.9 264.6h0M421.9 264.8h0M445.1 263.2h0M414.6 261.8h0M449.6 260.9h0M425.6 264.9h0M437.1 264.9h0M412.7 262.0h0M453.4 260.4h0M421.8 264.0h0M434.1 265.5h0M435.4 264.9h0M415.4 261.7h0M412.5 261.8h0M441.2 263.0h0M433.5 265.6h0M409.9 260.3h0M452.4 260.5h0M439.7 264.7h0M443.4 264.0h0M435.4 265.4h0M414.2 263.1h0M415.5 261.8h0M408.0 260.2h0M409.7 260.9h0M422.9 264.6h0M426.9 265.7h0M417.5 263.1h0M434.7 265.7h0M445.5 263.1h0M413.1 262.2h0M407.6 261.9h0M448.8 261.5h0M432.2 265.3h0M419.8 263.9h0M449.3 260.8h0M454.7 260.5h0M415.4 263.0h0M412.9 262.4h0M448.2 262.9h0M424.2 265.0h0M413.1 262.7h0M419.1 262.7h0M428.4 265.2h0M432.4 265.3h0M453.4 260.1h0M451.1 262.2h0M426.1 265.8h0M428.7 266.1h0M424.8 265.5h0M453.5 259.4h0M414.8 261.7h0M416.5 262.2h0M446.3 262.8h0M449.8 261.9h0M412.6 262.6h0M415.7 263.0h0M440.0 264.0h0M432.0 265.9h0M415.7 261.9h0M408.0 261.6h0M440.5 264.1h0M408.9 261.7h0M429.4 265.8h0M441.0 263.5h0M451.7 261.3h0M445.1 261.8h0M453.7 260.6h0M435.6 265.4h0M439.3 263.6h0M409.4 260.1h0M439.1 264.0h0M449.0 261.8h0M418.8 263.4h0M419.1 262.7h0M409.5 261.7h0M434.7 264.8h0M439.6 264.3h0M416.2 262.7h0M431.0 265.7h0M441.8 263.9h0M451.1 261.2h0M423.1 264.1h0M407.2 260.3h0M420.7 263.2h0M454.2 261.4h0M408.6 261.4h0M440.2 263.7h0M410.0 260.8h0M417.5 264.1h0M443.5 264.0h0M423.1 264.7h0M447.8 261.1h0M424.2 264.9h0M411.1 260.7h0M448.8 261.2h0M419.9 264.0h0M421.1 264.6h0M439.7 264.3h0M444.8 261.9h0M445.1 262.1h0M408.6 261.2h0M415.3 263.5h0M447.5 261.6h0M431.2 266.4h0M445.8 261.7h0M426.8 265.9h0M424.6 264.5h0M452.5 259.7h0M435.7 265.4h0M435.7 265.0h0M431.9 266.2h0M444.4 262.9h0M410.5 261.1h0M446.3 263.1h0M422.0 265.0h0M452.2 259.7h0M424.1 264.6h0M423.4 264.7h0M432.5 266.1h0M423.3 265.1h0M436.5 265.5h0M443.6 263.2h0M408.7 259.8h0M413.0 261.7h0M442.6 263.5h0M431.7 265.5h0M424.7 265.1h0M408.8 261.3h0M420.5 263.3h0M413.5 261.2h0M408.2 260.7h0M417.5 263.5h0M421.9 265.0h0M438.4 264.9h0M415.8 262.2h0M443.8 262.5h0M419.7 264.2h0M414.0 262.2h0M417.3 263.7h0M448.4 260.9h0M446.7 262.4h0M445.4 262.8h0M435.2 264.8h0M434.1 264.9h0M450.3 262.4h0M435.7 265.6h0M448.8 261.1h0M424.2 264.3h0M408.2 260.1h0M437.1 264.4h0M421.6 263.7h0M420.0 263.3h0M414.0 262.1h0M453.8 261.2h0M410.5 261.0h0M431.8 265.6h0M406.6 260.7h0M434.3 265.5h0M414.4 263.0h0M442.4 263.2h0M411.3 262.4h0M445.8 262.3h0M446.0 263.0h0M445.1 261.9h0M446.3 261.5h0M411.2 261.3h0M452.5 260.5h0M454.5 259.7h0M420.9 263.6h0M408.2 261.0h0M455.0 259.7h0M416.1 263.2h0M443.3 263.4h0M448.7 261.0h0M444.8 262.4h0M413.1 261.4h0M444.4 263.5h0M451.5 260.8h0M424.9 264.6h0M422.3 263.7h0M420.2 264.5h0M435.5 264.8h0M417.1 262.7h0M412.7 262.8h0M448.9 262.5h0M446.5 262.8h0M434.9 265.3h0M448.5 262.5h0M451.8 261.1h0M412.7 263.1h0M428.6 265.3h0M426.4 265.5h0M436.2 264.9h0M439.6 264.0h0M417.4 262.3h0M411.5 262.1h0M439.0 264.0h0M444.3 262.4h0M419.9 264.5h0M414.3 261.9h0M447.9 262.8h0M431.8 265.9h0M419.7 263.0h0M453.0 260.1h0M412.1 262.3h0M441.8 263.3h0M423.1 265.1h0M451.8 261.5h0M426.5 264.9h0M455.0 260.3h0M423.5 264.7h0M454.9 259.8h0M435.6 265.3h0M413.8 262.5h0M452.1 260.9h0M419.6 264.5h0M451.7 260.9h0M427.6 266.0h0M452.9 261.7h0M407.4 261.4h0M441.8 264.4h0M448.4 261.7h0M415.8 262.8h0M416.0 262.6h0M419.0 263.4h0M410.3 260.9h0M413.4 262.0h0M419.7 263.5h0M409.2 261.0h0M452.0 261.5h0M448.8 262.5h0M445.8 261.6h0M422.8 264.6h0M423.2 263.9h0M411.5 262.3h0M447.9 262.6h0M449.1 262.2h0M415.8 262.4h0M453.2 260.3h0M448.5 261.1h0M416.7 263.0h0M454.0 260.0h0M444.9 262.8h0M445.6 261.6h0M417.3 263.9h0M414.2 262.6h0M428.6 265.5h0M443.7 263.7h0M408.3 261.9h0M437.3 265.2h0M441.2 263.9h0M451.1 260.5h0M422.5 264.8h0M445.1 262.9h0M410.1 261.7h0M420.7 263.8h0M408.3 261.5h0M412.6 263.0h0M443.2 262.6h0M427.5 265.8h0M407.9 259.8h0M451.8 260.7h0M406.6 259.7h0M418.0 264.2h0M444.3 262.9h0M409.7 262.2h0M447.8 261.8h0M454.4 259.7h0M423.1 263.9h0M441.4 263.6h0M425.8 265.0h0M410.1 260.8h0M417.4 262.4h0M420.5 264.0h0M422.6 263.9h0M447.5 261.6h0M419.4 264.4h0M441.3 263.5h0M435.6 264.8h0M453.1 261.5h0M418.4 263.3h0M410.6 260.8h0M410.5 262.3h0M407.3 261.0h0M409.4 261.8h0M449.3 261.9h0M448.3 261.0h0M444.7 262.0h0M455.0 260.9h0M408.7 260.6h0M419.1 263.1h0M446.5 263.0h0M438.6 264.2h0M454.4 261.3h0M408.0 260.6h0M420.1 263.9h0M448.7 261.2h0M451.8 261.3h0M408.5 260.8h0M447.4 262.6h0M428.4 265.7h0M439.4 264.1h0M422.8 265.1h0M428.4 266.1h0M446.3 261.9h0M422.1 264.1h0M420.8 264.8h0M409.1 262.2h0M414.4 261.8h0M409.2 260.4h0M414.3 261.8h0M442.3 262.6h0M431.8 266.0h0M440.2 264.1h0M451.7 261.7h0M423.6 264.6h0M441.3 263.9h0M412.9 261.3h0M406.9 260.3h0M414.2 261.7h0M429.0 265.6h0M445.7 262.1h0M441.4 263.6h0M422.5 264.3h0M410.3 260.3h0M414.0 262.5h0M453.8 260.0h0M415.8 263.4h0M438.8 264.1h0M453.1 259.6h0M450.6 261.2h0M412.3 262.0h0M437.6 264.0h0M442.0 264.0h0M431.8 265.7h0M410.3 260.4h0M441.1 264.1h0M408.4 261.2h0M452.2 261.9h0" fill="none" stroke="#1a1a1a" stroke-width="1.40" stroke-linecap="round"/>
<path d="M430.7 266.6h0M434.4 265.2h0M437.6 264.4h0M425.0 265.3h0M440.9 263.7h0M432.0 266.3h0M434.2 265.0h0M433.3 265.5h0M437.1 265.5h0M429.9 265.6h0M422.3 264.4h0M420.9 264.6h0M432.1 265.7h0M421.6 263.9h0M430.6 266.8h0M422.3 264.4h0M435.7 265.9h0M434.3 265.0h0M419.6 264.2h0M428.3 266.5h0M424.9 265.1h0M422.8 265.5h0M420.6 263.9h0M431.8 265.3h0M424.7 265.7h0M422.9 264.7h0M424.4 265.1h0M421.2 264.8h0M428.1 265.5h0M427.5 266.4h0M427.5 266.2h0M431.0 266.5h0M426.9 265.4h0M436.5 264.9h0M441.4 264.4h0M434.0 265.8h0M432.2 265.4h0M421.6 265.0h0M436.1 265.0h0M422.4 264.3h0M423.1 264.4h0M421.8 264.8h0M436.7 265.1h0M427.0 265.7h0M437.7 264.9h0M437.1 265.5h0M437.5 265.2h0M431.2 266.0h0M438.0 265.5h0M421.7 264.0h0M439.0 264.1h0M435.8 265.3h0M425.2 264.5h0M431.2 266.1h0M436.4 265.6h0M432.4 266.4h0M420.0 264.6h0M434.5 266.1h0M432.2 266.1h0M434.5 265.6h0M431.5 266.4h0M425.5 265.4h0M425.2 264.9h0M428.8 266.1h0M424.7 265.0h0M436.3 265.6h0M424.3 265.0h0M429.9 266.4h0M436.5 265.5h0M433.4 266.3h0M423.4 265.4h0M435.2 265.2h0M426.4 265.2h0M426.3 265.2h0M433.8 265.8h0M437.2 265.3h0M426.2 264.8h0M432.6 266.5h0M428.2 266.5h0M435.4 265.3h0M425.0 265.8h0M436.8 264.8h0M435.3 265.9h0M431.2 266.1h0M424.8 265.0h0M438.7 264.7h0M440.8 264.3h0M439.0 265.3h0M428.1 265.7h0M430.7 266.8h0" fill="none" stroke="#d82c1c" stroke-width="1.60" stroke-linecap="round"/>
<path d="M370.8 172.1h0M386.7 210.2h0M379.6 227.7h0M383.8 226.7h0M388.7 230.6h0M394.4 234.4h0M388.7 240.8h0M405.0 243.1h0M385.8 252.1h0M395.4 253.6h0M475.8 157.6h0M404.0 258.6h0M408.0 260.0h0M412.0 261.2h0M416.0 262.3h0M420.0 263.2h0M401.0 257.8h0" fill="none" stroke="#d82c1c" stroke-width="2.10" stroke-linecap="round"/>
<text x="378.20" y="169.10" font-style="italic" text-anchor="end">HOXA13</text>
<text x="394.50" y="207.80" font-style="italic" text-anchor="end">HOXA10</text>
<text x="378.00" y="226.40" font-style="italic" text-anchor="end">UNCX</text>
<text x="391.60" y="237.00" font-style="italic" text-anchor="end">HOXA9</text>
<text x="386.00" y="243.40" font-style="italic" text-anchor="end">HOXA11</text>
<text x="380.50" y="249.40" font-style="italic" text-anchor="end">HOXB4</text>
<text x="418.90" y="250.40" font-style="italic" text-anchor="end">CDKN2C</text>
<text x="382.40" y="256.20" font-style="italic" text-anchor="end">HOXB3</text>
<text x="396.40" y="263.00" font-style="italic" text-anchor="end">HOXB6</text>
<text x="477.80" y="159.80">NPM1c</text>
<text x="477.80" y="169.00">target genes</text>
<line x1="131.50" y1="345.40" x2="131.50" y2="476.50" stroke="#2a2a2a" stroke-width="0.9"/>
<line x1="32.80" y1="476.50" x2="230.20" y2="476.50" stroke="#1a1a1a" stroke-width="1.0"/>
<line x1="126.30" y1="432.90" x2="131.50" y2="432.90" stroke="#2a2a2a" stroke-width="0.8"/>
<text x="124.60" y="435.60" text-anchor="end">50</text>
<line x1="126.30" y1="389.30" x2="131.50" y2="389.30" stroke="#2a2a2a" stroke-width="0.8"/>
<text x="124.60" y="392.00" text-anchor="end">100</text>
<line x1="126.30" y1="345.70" x2="131.50" y2="345.70" stroke="#2a2a2a" stroke-width="0.8"/>
<text x="124.60" y="348.40" text-anchor="end">150</text>
<line x1="33.25" y1="476.50" x2="33.25" y2="481.20" stroke="#2a2a2a" stroke-width="0.8"/>
<text x="33.25" y="489.00" text-anchor="middle">−3</text>
<line x1="66.00" y1="476.50" x2="66.00" y2="481.20" stroke="#2a2a2a" stroke-width="0.8"/>
<text x="66.00" y="489.00" text-anchor="middle">−2</text>
<line x1="98.75" y1="476.50" x2="98.75" y2="481.20" stroke="#2a2a2a" stroke-width="0.8"/>
<text x="98.75" y="489.00" text-anchor="middle">−1</text>
<line x1="131.50" y1="476.50" x2="131.50" y2="481.20" stroke="#2a2a2a" stroke-width="0.8"/>
<text x="131.50" y="489.00" text-anchor="middle">0</text>
<line x1="164.25" y1="476.50" x2="164.25" y2="481.20" stroke="#2a2a2a" stroke-width="0.8"/>
<text x="164.25" y="489.00" text-anchor="middle">1</text>
<line x1="197.00" y1="476.50" x2="197.00" y2="481.20" stroke="#2a2a2a" stroke-width="0.8"/>
<text x="197.00" y="489.00" text-anchor="middle">2</text>
<line x1="229.75" y1="476.50" x2="229.75" y2="481.20" stroke="#2a2a2a" stroke-width="0.8"/>
<text x="229.75" y="489.00" text-anchor="middle">3</text>
<line x1="98.75" y1="344.80" x2="98.75" y2="476.50" stroke="#262626" stroke-width="0.9" stroke-dasharray="1.0 1.2"/>
<line x1="164.25" y1="344.80" x2="164.25" y2="476.50" stroke="#262626" stroke-width="0.9" stroke-dasharray="1.0 1.2"/>
<text x="131.00" y="327.90" text-anchor="middle">PRO-seq</text>
<text x="131.00" y="336.70" text-anchor="middle">30 min dTAG-13</text>
<text x="119.30" y="500.10">Log<tspan font-size="5" dy="1.6">2</tspan><tspan dy="-1.6">FC</tspan></text>
<text transform="translate(32.60,416.00) rotate(-90)" text-anchor="middle">−Log<tspan font-size="5" dy="1.6">10</tspan><tspan dy="-1.6"> </tspan><tspan font-style="italic">P</tspan></text>
<polygon fill="#1a1a1a" points="33.2,476.8 33.2,475.5 82.4,475.0 164.2,475.0 183.9,475.6 229.8,475.8 229.8,476.8"/>
<polygon fill="#1a1a1a" points="108.6,476.5 111.8,474.9 115.1,473.5 117.7,471.7 119.7,470.1 121.7,469.1 123.6,469.3 125.6,470.5 127.6,472.5 129.5,474.5 131.5,476.5"/>
<polygon fill="#1a1a1a" points="132.5,476.5 134.8,474.9 137.4,473.7 140.0,472.7 142.3,472.6 145.3,473.5 148.5,474.3 152.8,474.9 157.7,476.5"/>
<path d="M181.3 475.7h0M173.0 475.7h0M229.4 475.6h0M204.6 475.8h0M202.0 475.7h0M203.6 475.6h0M201.6 475.8h0M190.7 475.8h0M213.9 475.7h0M190.9 475.7h0M202.8 475.9h0M214.5 475.7h0M190.6 475.7h0M198.0 475.8h0M213.6 475.8h0M187.4 475.5h0M212.4 475.8h0M198.6 475.8h0M190.3 475.5h0M176.3 475.7h0M196.0 475.9h0M214.7 475.5h0M217.8 475.7h0M180.7 475.7h0M216.0 475.9h0M199.4 475.8h0M214.9 475.9h0M204.9 475.7h0M206.0 475.9h0M208.2 475.9h0M172.9 475.9h0M226.4 475.9h0M193.3 475.8h0M192.5 475.7h0M214.2 475.9h0M218.0 475.7h0M229.2 475.6h0M186.4 475.5h0M180.9 475.6h0M199.4 475.6h0M223.0 475.6h0M179.8 475.8h0M196.0 475.5h0M211.0 475.6h0M196.8 475.6h0M195.4 475.6h0M204.4 475.8h0M222.1 475.7h0M219.1 475.9h0M223.6 475.6h0M189.2 475.6h0M218.3 475.6h0" fill="none" stroke="#1a1a1a" stroke-width="1.00" stroke-linecap="round"/>
<path d="M44.1 474.7h0M44.0 474.7h0M115.4 474.8h0M98.9 474.8h0M34.4 474.4h0M87.2 475.1h0M94.8 475.1h0M133.7 474.9h0M43.3 475.0h0M72.9 475.3h0M138.7 475.0h0M124.5 474.9h0M148.0 475.0h0M43.3 475.0h0M138.0 474.9h0M144.3 475.0h0M87.0 474.6h0M90.5 474.7h0M122.6 474.5h0M120.7 474.5h0M44.6 474.9h0M158.9 475.3h0M150.4 475.1h0M165.7 474.7h0M91.2 475.1h0M53.1 475.2h0M114.7 474.7h0M83.9 474.5h0M168.0 475.2h0M44.4 474.7h0M41.5 474.5h0M90.9 475.1h0M147.6 475.0h0M143.4 475.2h0M110.2 475.3h0M107.9 474.7h0M77.1 474.8h0M51.6 474.9h0M166.7 475.2h0M90.4 475.0h0M128.5 474.5h0M150.7 474.8h0M50.6 475.2h0M86.5 474.5h0M150.9 474.4h0M100.9 474.5h0M162.3 475.3h0M98.7 474.9h0M81.9 474.6h0M68.4 474.6h0M91.9 475.2h0M143.1 475.2h0M141.6 474.6h0M150.3 474.9h0M39.9 474.8h0M52.4 474.7h0M59.2 474.8h0M102.6 475.0h0M163.6 475.2h0M66.6 474.5h0M98.4 474.5h0M62.5 475.2h0M130.7 474.8h0M56.4 474.9h0M65.5 474.8h0M132.8 475.0h0M72.1 474.9h0M73.2 475.2h0M80.4 474.5h0M131.9 474.5h0M36.2 474.5h0M129.2 474.6h0M145.3 474.7h0M78.3 474.6h0M63.4 475.1h0M39.3 474.9h0M135.1 475.0h0M146.9 475.1h0M150.2 474.6h0M81.5 474.8h0M154.7 474.7h0M113.2 475.2h0M81.4 474.6h0M166.6 475.2h0M100.9 475.2h0M72.2 475.1h0M98.3 474.4h0M127.5 474.9h0M72.4 474.7h0M51.4 474.7h0M101.9 475.2h0M149.3 474.9h0M82.8 474.5h0M78.9 475.1h0M123.2 475.1h0M130.0 474.5h0M167.9 474.7h0M110.3 474.6h0" fill="none" stroke="#1a1a1a" stroke-width="1.20" stroke-linecap="round"/>
<path d="M96.6 455.2h0M117.3 469.5h0M106.8 471.4h0M115.4 465.1h0M108.5 471.5h0M114.2 473.5h0M116.9 471.8h0M109.8 460.6h0M131.0 469.0h0M123.5 463.0h0M88.0 471.3h0M110.0 467.7h0M127.3 467.4h0M113.6 427.7h0M116.8 456.7h0M116.6 471.7h0M101.0 471.4h0M111.9 442.7h0M116.2 469.9h0M102.8 463.3h0M102.4 472.2h0M110.5 457.0h0M98.4 471.0h0M111.8 468.1h0M126.2 472.5h0M117.7 471.2h0M93.7 472.3h0M94.7 472.5h0M124.7 453.0h0M113.7 473.3h0M111.3 465.4h0M105.9 468.1h0M129.1 463.5h0M100.7 455.0h0M104.4 446.6h0M113.9 468.9h0M91.2 472.8h0M104.9 473.7h0M113.9 441.2h0M104.0 454.3h0M122.4 455.8h0M106.0 458.1h0M118.6 472.7h0M121.5 471.2h0M119.0 458.4h0M122.8 451.9h0M105.6 473.1h0M113.4 452.0h0M117.5 462.6h0M114.5 471.1h0M111.1 466.8h0M102.5 463.0h0M97.4 464.5h0M104.7 467.8h0M120.1 473.8h0M127.4 467.7h0M118.6 463.9h0M125.7 472.0h0M95.2 471.3h0M116.3 468.5h0M105.4 468.8h0M113.6 442.6h0M106.1 461.1h0M116.0 469.6h0M120.5 472.6h0M126.2 471.5h0M110.2 473.5h0M104.3 472.5h0M120.4 473.1h0M106.1 465.5h0M99.8 469.7h0M116.4 462.2h0M117.5 467.6h0M109.5 473.7h0M114.5 469.5h0M117.1 442.4h0M109.9 464.0h0M130.4 464.2h0M119.0 471.8h0M126.6 459.9h0M114.2 457.4h0M104.7 465.1h0M100.1 465.4h0M128.1 471.8h0M99.7 461.5h0M110.7 470.8h0M111.0 472.1h0M111.4 462.5h0M104.7 470.9h0M111.7 462.0h0M109.9 472.7h0M112.0 447.7h0M106.4 470.0h0M112.9 466.8h0M116.2 467.6h0M102.6 471.0h0M108.0 472.2h0M110.5 473.0h0M122.6 471.0h0M122.5 458.8h0M113.0 467.4h0M120.8 471.9h0M100.5 473.4h0M117.3 472.3h0M115.3 461.8h0M120.9 471.4h0M106.7 472.9h0M128.8 465.4h0M106.3 458.3h0M97.5 458.9h0M111.3 463.4h0M107.5 465.9h0M107.7 465.5h0M106.9 472.8h0M116.7 471.0h0M117.3 468.6h0M127.3 473.6h0M115.1 461.5h0M110.4 464.1h0M103.8 462.6h0M132.4 470.5h0M133.6 470.0h0M140.3 470.7h0M138.6 470.4h0M144.6 466.9h0M144.5 469.9h0M137.5 466.8h0M151.4 470.9h0M146.0 471.1h0M139.2 461.9h0M142.6 464.0h0M138.7 470.8h0M144.0 468.8h0M136.8 466.9h0M142.1 468.6h0M143.5 471.0h0M139.9 469.6h0M138.0 467.4h0M143.5 470.4h0M139.9 466.9h0M149.7 466.1h0" fill="none" stroke="#1a1a1a" stroke-width="1.24" stroke-linecap="round"/>
<path d="M122.2 474.5h0M137.7 474.2h0M112.7 474.2h0M161.3 474.2h0M161.9 475.5h0M132.4 475.3h0M141.9 474.5h0M106.3 474.8h0M122.2 474.9h0M147.1 474.1h0M115.6 475.4h0M116.7 475.1h0M123.0 474.4h0M104.5 474.2h0M160.3 475.4h0M158.8 474.2h0M139.9 474.0h0M150.6 474.9h0M140.4 474.5h0M185.8 474.1h0M107.2 474.0h0M150.5 474.7h0M148.4 474.2h0M130.3 475.2h0M130.8 475.2h0M131.4 474.0h0M85.7 475.1h0M144.9 474.9h0M158.3 474.1h0M151.2 474.7h0M88.5 474.1h0M173.6 474.4h0M164.1 474.8h0M148.3 474.0h0M106.6 474.5h0M160.9 474.9h0M92.5 474.0h0M126.0 474.7h0M84.6 475.4h0M185.6 474.2h0M117.9 474.8h0M100.9 474.3h0M164.3 474.3h0M104.7 475.4h0M125.0 474.0h0M144.2 474.1h0M153.0 474.6h0M159.0 475.4h0M97.6 474.5h0M158.7 475.1h0M133.2 474.6h0M109.8 474.8h0M169.0 474.2h0M126.3 474.4h0M82.3 474.4h0M177.4 474.4h0M128.8 474.6h0M146.8 474.2h0M138.1 475.3h0M108.2 474.7h0M142.7 474.3h0M120.6 475.2h0M128.2 475.0h0M139.5 474.9h0M197.1 475.2h0M117.7 475.0h0M147.8 475.0h0M125.5 474.8h0M147.3 474.9h0M144.3 474.9h0M151.6 475.2h0M126.8 474.0h0M84.0 474.5h0M146.9 474.3h0M125.5 474.3h0M145.3 474.7h0M95.1 474.3h0M117.4 475.1h0M93.4 474.7h0M175.9 475.0h0M117.6 474.3h0M116.7 475.4h0M147.2 474.9h0M101.5 474.0h0M129.6 475.4h0M151.0 474.6h0M132.4 474.8h0M92.1 474.2h0M148.7 474.5h0M145.9 474.0h0M104.7 474.3h0M101.5 474.9h0M171.7 475.0h0M115.7 474.9h0M139.8 475.2h0M108.7 474.1h0M100.3 474.4h0M125.2 474.1h0M147.4 475.4h0M149.2 474.8h0M80.3 474.4h0M130.8 474.6h0M103.4 475.1h0M151.0 474.1h0M143.5 475.3h0M82.9 474.4h0M132.3 474.1h0M100.6 474.1h0M129.4 474.5h0M82.9 474.1h0M159.2 474.4h0M161.5 474.5h0M130.0 474.5h0M141.2 474.2h0M128.9 475.1h0M149.4 475.3h0M99.6 474.2h0M67.9 474.9h0M128.3 474.2h0M121.9 475.0h0" fill="none" stroke="#1a1a1a" stroke-width="1.30" stroke-linecap="round"/>
<path d="M128.1 472.5h0M120.9 468.7h0M126.0 470.2h0M122.8 467.5h0M130.2 473.8h0M123.1 469.2h0M117.4 470.7h0M117.2 470.2h0M122.6 468.9h0M129.8 471.8h0M123.0 469.7h0M114.6 471.3h0M126.8 471.0h0M121.8 468.8h0M114.9 471.6h0M114.6 472.2h0M113.7 473.2h0M120.2 467.7h0M130.2 471.7h0M120.4 468.8h0M122.7 468.3h0M120.5 469.3h0M113.1 472.4h0M123.0 468.5h0M118.8 469.6h0M123.5 469.3h0M123.6 468.8h0M128.7 472.1h0M123.3 469.4h0M128.4 472.4h0M113.1 471.7h0M117.7 469.5h0M131.9 473.3h0M116.9 470.0h0M124.0 470.3h0M122.1 467.0h0M119.4 469.6h0M113.4 473.1h0M124.5 468.2h0M127.0 471.4h0M123.8 469.3h0M121.6 466.7h0M122.6 469.2h0M115.3 472.6h0M125.9 470.3h0M128.2 470.4h0M128.6 472.0h0M115.8 470.4h0M122.4 468.0h0M122.5 468.1h0M121.7 468.9h0M124.6 468.4h0M117.6 469.0h0M108.5 475.4h0M120.1 467.8h0M115.6 470.5h0M121.3 468.6h0M121.3 467.7h0M120.2 467.7h0M121.2 467.2h0M119.2 468.2h0M121.0 467.9h0M124.9 469.3h0M122.7 467.3h0M113.2 473.5h0M121.4 468.4h0M125.0 470.6h0M117.8 469.8h0M123.1 468.7h0M123.2 468.4h0M115.3 471.7h0M114.5 473.1h0M120.4 468.5h0M119.0 469.5h0M116.8 471.3h0M113.4 472.4h0M118.6 470.4h0M115.2 470.6h0M119.2 469.8h0M119.6 467.7h0M121.4 467.1h0M125.9 469.4h0M114.9 472.9h0M114.3 473.2h0M130.0 473.9h0M119.3 470.2h0M121.4 468.5h0M132.8 474.0h0M127.5 470.1h0M117.5 470.8h0M121.3 467.3h0M121.5 468.7h0M128.8 472.8h0M119.3 468.3h0M124.0 470.0h0M126.1 469.6h0M129.7 473.8h0M113.2 471.9h0M111.6 473.8h0M117.3 470.0h0M112.9 474.1h0M115.4 472.6h0M116.5 471.1h0M119.5 470.2h0M120.7 467.4h0M119.5 468.2h0M118.1 469.5h0M121.4 468.6h0M118.4 468.5h0M121.8 467.6h0M119.3 468.5h0M122.6 467.3h0M122.1 468.2h0M118.7 469.9h0M120.9 467.8h0M117.7 468.9h0M120.8 469.3h0M120.1 469.6h0M118.2 469.7h0M114.1 472.4h0M114.7 471.6h0M124.6 468.4h0M119.7 467.8h0M111.4 473.1h0M120.4 468.0h0M119.4 468.2h0M110.9 475.0h0M125.2 468.7h0M113.0 473.5h0M123.6 469.3h0M118.0 470.9h0M124.5 469.5h0M128.3 470.6h0M119.8 468.2h0M129.4 471.8h0M106.3 475.8h0M120.7 469.4h0M126.1 471.0h0M129.6 472.9h0M113.0 472.3h0M122.4 467.4h0M109.8 474.8h0M128.4 472.2h0M126.7 470.4h0M116.3 469.8h0M125.5 470.8h0M113.2 472.7h0M119.2 468.1h0M111.0 473.7h0M127.1 469.8h0M123.8 469.5h0M122.6 467.2h0M124.7 469.0h0M121.0 466.8h0M123.2 468.1h0M125.7 469.6h0M120.5 469.0h0M111.9 474.2h0M128.6 472.6h0M122.1 468.5h0M149.3 473.7h0M140.3 471.2h0M135.4 473.7h0M137.3 473.7h0M142.8 472.1h0M142.3 472.5h0M146.6 471.9h0M146.0 472.3h0M140.7 472.3h0M150.9 475.5h0M140.2 471.1h0M147.1 473.3h0M141.7 470.3h0M139.7 472.2h0M142.6 470.9h0M140.8 472.1h0M147.8 473.0h0M134.5 474.1h0M145.4 471.6h0M142.2 472.4h0M138.2 471.9h0M136.1 473.8h0M143.4 470.8h0M143.8 472.4h0M138.1 473.0h0M136.4 474.0h0M152.2 475.8h0M142.9 470.6h0M136.5 473.8h0M148.3 472.9h0M141.9 471.4h0M147.0 474.1h0M142.1 472.0h0M151.3 474.9h0M142.3 472.4h0M138.3 473.0h0M138.2 471.9h0M145.3 472.7h0M143.1 471.4h0M140.7 470.6h0M142.1 471.7h0M143.3 472.9h0M134.0 474.7h0M144.0 473.1h0M138.8 472.8h0M142.4 471.8h0M143.4 472.3h0M143.3 472.0h0M148.1 474.6h0M139.4 472.6h0M141.7 470.5h0M135.2 472.1h0M143.6 470.9h0M140.0 471.6h0M142.2 470.6h0M145.2 473.3h0M145.5 471.6h0M144.0 472.3h0M141.7 471.5h0M139.9 472.2h0M144.1 472.5h0M149.4 474.9h0M148.0 474.3h0M141.4 472.5h0M138.4 473.4h0M136.8 472.8h0M141.6 472.0h0M135.5 473.2h0M136.0 473.9h0M137.3 471.8h0M93.8 355.8h0M92.5 407.5h0M150.8 454.7h0M100.0 441.0h0M153.0 466.0h0M142.0 463.0h0" fill="none" stroke="#1a1a1a" stroke-width="1.40" stroke-linecap="round"/>
<path d="M130.6 475.1h0M129.8 474.4h0M131.3 476.2h0M129.4 474.4h0M133.7 474.2h0M132.6 475.4h0M133.0 474.4h0M130.5 475.4h0M133.1 474.2h0M131.4 475.7h0M133.0 474.9h0M131.3 475.7h0" fill="none" stroke="#d82c1c" stroke-width="1.70" stroke-linecap="round"/>
<path d="M93.8 369.5h0M99.0 375.5h0M112.5 406.2h0M89.5 415.8h0M93.8 424.5h0M97.5 423.8h0M101.2 422.5h0M86.2 429.5h0M97.5 436.2h0M101.9 438.4h0M102.7 443.5h0M111.5 441.9h0M118.8 440.4h0M120.4 455.8h0M123.2 459.3h0M118.0 460.4h0M115.0 465.8h0M121.2 465.8h0M123.5 467.3h0M125.0 471.2h0M126.5 473.5h0M92.5 470.5h0M119.0 469.0h0M117.0 471.5h0" fill="none" stroke="#d82c1c" stroke-width="2.60" stroke-linecap="round"/>
<line x1="100.80" y1="422.30" x2="180.80" y2="408.50" stroke="#555" stroke-width="0.7"/>
<text x="89.60" y="371.90" font-style="italic" text-anchor="end">HOXA10</text>
<text x="95.90" y="379.15" font-style="italic" text-anchor="end">HOXB3</text>
<text x="87.10" y="417.40" font-style="italic" text-anchor="end">HOXA11</text>
<text x="90.10" y="425.40" font-style="italic" text-anchor="end">HOXA13</text>
<text x="83.10" y="433.65" font-style="italic" text-anchor="end">HOXA9</text>
<text x="93.90" y="442.40" font-style="italic" text-anchor="end">CDKN2C</text>
<text x="86.40" y="471.15" font-style="italic" text-anchor="end">HOXB2</text>
<text x="182.30" y="406.50" font-style="italic">LHX2</text>
<text x="182.30" y="415.70" font-style="italic">UNCX</text>
<line x1="372.50" y1="345.70" x2="372.50" y2="476.50" stroke="#2a2a2a" stroke-width="0.9"/>
<line x1="274.10" y1="476.50" x2="471.10" y2="476.50" stroke="#1a1a1a" stroke-width="1.0"/>
<line x1="367.20" y1="450.42" x2="372.50" y2="450.42" stroke="#2a2a2a" stroke-width="0.8"/>
<text x="365.50" y="453.12" text-anchor="end">50</text>
<line x1="367.20" y1="424.34" x2="372.50" y2="424.34" stroke="#2a2a2a" stroke-width="0.8"/>
<text x="365.50" y="427.04" text-anchor="end">100</text>
<line x1="367.20" y1="398.26" x2="372.50" y2="398.26" stroke="#2a2a2a" stroke-width="0.8"/>
<text x="365.50" y="400.96" text-anchor="end">150</text>
<line x1="367.20" y1="372.18" x2="372.50" y2="372.18" stroke="#2a2a2a" stroke-width="0.8"/>
<text x="365.50" y="374.88" text-anchor="end">200</text>
<line x1="367.20" y1="346.10" x2="372.50" y2="346.10" stroke="#2a2a2a" stroke-width="0.8"/>
<text x="365.50" y="348.80" text-anchor="end">250</text>
<line x1="274.40" y1="476.50" x2="274.40" y2="481.20" stroke="#2a2a2a" stroke-width="0.8"/>
<text x="274.40" y="489.00" text-anchor="middle">−3</text>
<line x1="307.10" y1="476.50" x2="307.10" y2="481.20" stroke="#2a2a2a" stroke-width="0.8"/>
<text x="307.10" y="489.00" text-anchor="middle">−2</text>
<line x1="339.80" y1="476.50" x2="339.80" y2="481.20" stroke="#2a2a2a" stroke-width="0.8"/>
<text x="339.80" y="489.00" text-anchor="middle">−1</text>
<line x1="372.50" y1="476.50" x2="372.50" y2="481.20" stroke="#2a2a2a" stroke-width="0.8"/>
<text x="372.50" y="489.00" text-anchor="middle">0</text>
<line x1="405.20" y1="476.50" x2="405.20" y2="481.20" stroke="#2a2a2a" stroke-width="0.8"/>
<text x="405.20" y="489.00" text-anchor="middle">1</text>
<line x1="437.90" y1="476.50" x2="437.90" y2="481.20" stroke="#2a2a2a" stroke-width="0.8"/>
<text x="437.90" y="489.00" text-anchor="middle">2</text>
<line x1="470.60" y1="476.50" x2="470.60" y2="481.20" stroke="#2a2a2a" stroke-width="0.8"/>
<text x="470.60" y="489.00" text-anchor="middle">3</text>
<line x1="339.80" y1="345.10" x2="339.80" y2="476.50" stroke="#262626" stroke-width="0.9" stroke-dasharray="1.0 1.2"/>
<line x1="405.20" y1="345.10" x2="405.20" y2="476.50" stroke="#262626" stroke-width="0.9" stroke-dasharray="1.0 1.2"/>
<text x="371.60" y="328.20" text-anchor="middle">PRO-seq</text>
<text x="371.60" y="337.00" text-anchor="middle">60 min dTAG-13</text>
<text x="360.30" y="500.10">Log<tspan font-size="5" dy="1.6">2</tspan><tspan dy="-1.6">FC</tspan></text>
<text transform="translate(271.60,416.00) rotate(-90)" text-anchor="middle">−Log<tspan font-size="5" dy="1.6">10</tspan><tspan dy="-1.6"> </tspan><tspan font-style="italic">P</tspan></text>
<polygon fill="#1a1a1a" points="274.4,476.8 274.4,475.5 323.4,475.0 405.2,475.0 424.8,475.6 470.6,475.8 470.6,476.8"/>
<polygon fill="#1a1a1a" points="346.3,476.5 349.6,474.7 352.9,472.9 356.1,470.0 358.8,467.0 360.7,466.0 362.7,466.5 364.7,468.0 366.6,470.1 368.6,472.3 370.5,474.5 372.5,476.5"/>
<polygon fill="#1a1a1a" points="373.8,476.5 375.8,474.7 378.4,473.1 381.0,472.3 383.6,472.5 386.2,473.5 389.5,474.5 395.4,475.3 401.9,476.5"/>
<path d="M432.7 475.6h0M458.8 475.6h0M423.3 475.7h0M421.4 475.5h0M434.1 475.6h0M465.9 475.7h0M440.9 475.6h0M447.3 475.5h0M459.4 475.9h0M425.4 475.7h0M453.3 475.6h0M448.9 475.8h0M450.2 475.8h0M442.6 475.5h0M445.7 475.7h0M453.2 475.6h0M439.7 475.5h0M460.0 475.7h0M438.7 475.6h0M451.6 475.9h0M443.1 475.6h0M448.4 475.7h0M439.0 475.6h0M450.2 475.9h0M461.9 475.8h0M456.4 475.6h0M443.8 475.6h0M419.1 475.8h0M469.0 475.7h0M465.2 475.7h0M422.0 475.9h0M445.3 475.7h0M451.0 475.8h0M446.9 475.9h0M451.2 475.6h0M414.6 475.6h0M426.2 475.6h0M451.6 475.8h0M428.0 475.7h0M445.6 475.5h0M416.0 475.9h0M444.9 475.6h0M450.5 475.7h0M416.0 475.5h0M439.2 475.6h0M418.4 475.8h0M412.7 475.6h0M438.2 475.7h0M414.1 475.6h0M461.2 475.7h0M420.9 475.9h0M465.8 475.7h0M432.6 475.7h0M429.7 475.8h0M458.4 475.9h0" fill="none" stroke="#1a1a1a" stroke-width="1.00" stroke-linecap="round"/>
<path d="M392.8 474.9h0M321.4 475.0h0M345.5 474.5h0M364.3 474.8h0M292.4 474.5h0M350.3 475.1h0M310.7 474.6h0M314.0 474.6h0M370.7 474.5h0M375.1 474.6h0M279.8 474.8h0M335.9 474.6h0M403.8 475.2h0M274.4 475.1h0M341.9 474.6h0M324.3 475.3h0M281.8 474.4h0M319.1 475.0h0M333.6 474.7h0M351.8 475.0h0M407.0 474.6h0M400.8 475.3h0M303.9 475.0h0M373.4 475.0h0M360.1 475.0h0M321.4 474.7h0M406.0 475.3h0M337.1 474.6h0M365.0 474.6h0M345.2 475.2h0M297.6 474.5h0M347.0 474.7h0M372.1 475.3h0M335.4 474.9h0M348.6 474.7h0M336.9 475.0h0M343.5 474.5h0M392.1 474.4h0M361.9 475.3h0M315.3 474.8h0M385.9 474.9h0M386.1 475.3h0M300.1 474.4h0M310.5 475.0h0M375.5 474.6h0M294.3 474.6h0M392.9 475.2h0M346.4 474.5h0M399.4 475.2h0M356.2 475.0h0M348.6 474.6h0M277.8 474.7h0M386.1 475.3h0M285.3 474.8h0M316.6 474.9h0M304.7 475.1h0M304.5 474.9h0M280.4 475.2h0M409.3 474.8h0M320.3 475.1h0M397.7 475.3h0M319.9 474.6h0M319.9 475.1h0M365.1 474.8h0M316.7 474.5h0M357.7 474.8h0M370.2 475.3h0M355.8 475.0h0M308.1 475.1h0M380.9 474.9h0M319.1 474.5h0M344.4 474.9h0M335.2 474.7h0M361.8 475.2h0M390.1 475.2h0M332.5 474.9h0M390.6 474.9h0M328.8 474.8h0M367.0 474.8h0M372.5 475.1h0M343.4 475.0h0M288.1 475.2h0M401.0 474.9h0M282.6 474.6h0M367.9 474.8h0M305.1 474.7h0M409.1 474.7h0M407.4 474.9h0M338.5 474.8h0M317.5 474.6h0M305.1 474.8h0M402.1 475.0h0M301.1 474.5h0M328.3 474.8h0M278.3 474.8h0" fill="none" stroke="#1a1a1a" stroke-width="1.20" stroke-linecap="round"/>
<path d="M347.3 454.9h0M345.4 470.7h0M358.8 471.2h0M360.9 473.0h0M355.1 472.4h0M372.2 466.5h0M345.5 468.3h0M335.8 473.0h0M328.2 469.0h0M354.1 455.5h0M354.5 469.1h0M355.5 458.1h0M335.2 466.4h0M352.7 450.5h0M346.3 473.0h0M341.9 460.2h0M344.6 470.8h0M352.0 471.5h0M343.4 473.4h0M370.3 466.8h0M345.2 472.0h0M355.8 471.4h0M346.8 472.2h0M359.0 473.9h0M344.2 471.6h0M355.3 456.3h0M367.7 457.3h0M341.3 472.9h0M351.3 468.3h0M363.8 473.7h0M349.6 470.8h0M340.7 469.8h0M359.5 471.8h0M362.8 469.4h0M366.5 462.4h0M365.4 464.5h0M363.4 462.1h0M358.4 471.2h0M339.5 459.5h0M371.8 471.9h0M343.6 448.4h0M348.8 454.5h0M337.6 472.8h0M351.7 464.3h0M341.4 473.8h0M358.4 471.4h0M357.9 472.1h0M350.8 459.7h0M342.6 465.5h0M359.9 451.3h0M344.1 473.9h0M342.3 471.0h0M364.7 467.8h0M338.9 471.7h0M348.0 473.2h0M349.8 473.5h0M357.0 464.2h0M331.7 472.4h0M337.5 428.7h0M342.3 470.9h0M346.6 463.7h0M368.7 465.9h0M363.5 455.1h0M365.5 472.8h0M364.1 469.0h0M348.3 473.0h0M341.3 472.0h0M356.3 468.4h0M353.9 467.8h0M362.1 467.1h0M343.6 465.1h0M364.4 471.4h0M345.4 469.8h0M354.3 466.0h0M361.3 472.3h0M339.3 472.5h0M354.4 472.8h0M329.6 473.8h0M337.5 464.8h0M343.5 460.9h0M340.8 461.9h0M357.8 473.0h0M347.6 468.0h0M362.3 459.7h0M347.2 460.5h0M361.4 473.1h0M337.9 465.4h0M348.9 459.8h0M366.0 473.3h0M356.3 471.0h0M339.1 466.5h0M353.6 470.8h0M336.9 442.6h0M354.5 467.4h0M356.7 473.4h0M359.4 472.9h0M364.7 471.9h0M344.7 458.7h0M340.1 471.0h0M364.3 466.8h0M338.7 470.6h0M349.6 467.2h0M360.1 473.1h0M361.7 467.8h0M357.2 470.7h0M342.0 459.0h0M353.8 471.5h0M341.8 453.4h0M366.6 466.3h0M352.5 471.6h0M363.0 449.5h0M346.1 457.7h0M349.3 467.3h0M357.1 472.7h0M350.5 471.4h0M353.1 463.7h0M362.4 451.8h0M337.8 469.6h0M343.6 470.9h0M336.5 460.4h0M344.7 467.6h0M336.2 469.4h0M328.4 469.7h0M368.8 464.2h0M345.6 467.0h0M335.3 442.7h0M355.0 469.6h0M334.9 469.7h0M356.1 467.9h0M347.2 470.5h0M354.2 473.2h0M352.3 464.3h0M338.3 472.3h0M344.5 470.2h0M346.5 468.8h0M370.1 470.5h0M367.3 455.5h0M370.8 472.2h0M358.1 473.1h0M353.3 455.3h0M364.1 457.2h0M353.7 467.7h0M342.3 441.6h0M339.9 459.9h0M342.0 473.2h0M353.0 472.0h0M326.9 471.8h0M364.9 468.7h0M366.3 461.0h0M345.3 473.1h0M393.4 471.3h0M382.8 469.0h0M377.3 468.3h0M387.6 472.0h0M380.2 472.1h0M387.4 469.2h0M401.0 467.0h0M388.7 469.1h0M378.1 464.4h0M377.7 469.9h0M390.6 464.1h0M392.1 470.1h0M382.8 472.0h0M389.6 457.3h0M388.3 470.8h0M373.8 470.3h0M387.9 468.1h0M391.9 472.1h0M375.9 472.2h0M385.5 471.3h0M384.8 471.2h0M379.0 471.2h0" fill="none" stroke="#1a1a1a" stroke-width="1.24" stroke-linecap="round"/>
<path d="M371.3 474.5h0M412.9 474.0h0M425.0 475.4h0M378.0 474.0h0M369.3 473.9h0M369.2 475.0h0M302.9 474.8h0M374.7 475.4h0M384.5 475.2h0M419.0 474.9h0M378.5 475.3h0M403.4 473.8h0M384.2 475.2h0M364.8 474.5h0M422.5 475.2h0M364.1 474.0h0M405.9 474.2h0M381.1 474.7h0M340.8 475.2h0M338.9 475.3h0M368.6 475.2h0M384.2 475.4h0M351.2 475.2h0M412.5 474.7h0M387.8 474.9h0M384.7 473.8h0M377.3 474.0h0M386.7 474.9h0M345.6 474.6h0M389.8 475.5h0M343.2 475.2h0M316.5 473.9h0M383.7 474.3h0M332.8 474.7h0M326.5 474.1h0M328.1 474.5h0M376.2 474.7h0M369.2 475.5h0M343.6 474.6h0M340.4 475.2h0M421.9 474.6h0M387.9 474.6h0M366.0 474.3h0M356.6 474.6h0M413.0 473.8h0M351.2 474.0h0M342.7 475.2h0M407.6 474.8h0M358.7 474.6h0M349.9 474.5h0M389.8 473.9h0M370.2 475.2h0M392.7 474.3h0M371.7 474.4h0M411.2 474.9h0M373.5 474.3h0M323.3 474.9h0M353.1 474.5h0M303.0 474.0h0M351.8 473.7h0M317.3 475.4h0M375.3 474.7h0M398.9 475.0h0M387.6 474.6h0M371.7 474.4h0M369.9 475.3h0M329.6 474.4h0M414.7 474.7h0M412.2 475.4h0M336.5 474.7h0M367.1 474.0h0M378.3 475.0h0M393.4 474.1h0M381.5 475.1h0M337.9 474.6h0M370.8 474.1h0M357.5 475.0h0M332.7 474.3h0M354.1 474.2h0M413.2 473.8h0M426.1 474.0h0M388.6 475.0h0M325.3 474.2h0M337.3 473.8h0M338.3 474.0h0M418.6 475.0h0M340.6 475.5h0M371.2 475.4h0M388.1 475.1h0M313.5 474.4h0M381.1 475.0h0M364.0 474.0h0M315.3 474.3h0M325.9 474.1h0M338.1 475.0h0M328.1 475.2h0M389.9 474.0h0M360.9 475.1h0M371.9 475.2h0M382.9 473.7h0M342.5 475.4h0M461.0 474.8h0M317.8 475.1h0M318.1 474.8h0M347.5 475.4h0M377.3 474.8h0M353.1 474.5h0M344.9 475.1h0M370.5 475.3h0M408.1 474.9h0M422.7 473.9h0M330.7 474.7h0M407.1 475.3h0M357.1 474.6h0M398.4 474.9h0M368.2 475.3h0M362.0 473.8h0M382.3 474.6h0M367.1 474.5h0M398.3 475.2h0M375.8 474.7h0M347.0 473.8h0M345.3 474.1h0M380.3 473.8h0M361.2 473.8h0M340.8 475.1h0M414.5 475.2h0M361.2 475.2h0M381.5 474.2h0M395.3 474.2h0M346.2 475.1h0M356.6 475.4h0M329.3 474.1h0M368.4 475.1h0M391.1 475.3h0M388.0 475.2h0M334.3 475.0h0M351.3 473.7h0M392.9 473.9h0M385.0 474.3h0M345.3 474.2h0M369.9 474.5h0M388.7 473.7h0M407.3 473.9h0M375.8 475.3h0M392.5 474.4h0M367.7 474.3h0M299.0 474.8h0M379.4 474.4h0M372.2 474.2h0" fill="none" stroke="#1a1a1a" stroke-width="1.30" stroke-linecap="round"/>
<path d="M350.2 471.0h0M365.1 467.7h0M349.4 474.3h0M365.3 469.3h0M365.9 468.2h0M362.2 465.9h0M356.2 468.9h0M364.1 465.7h0M355.0 469.7h0M365.4 469.0h0M368.2 471.1h0M366.8 469.5h0M357.7 466.8h0M359.0 465.9h0M360.1 465.8h0M350.6 473.0h0M360.6 463.4h0M359.8 465.6h0M361.7 465.0h0M349.0 473.3h0M358.4 464.8h0M360.3 463.3h0M365.4 468.7h0M363.2 467.2h0M359.4 464.7h0M370.2 471.9h0M368.8 471.7h0M364.8 466.6h0M351.6 472.2h0M363.0 466.4h0M362.6 465.8h0M358.9 464.5h0M354.2 467.8h0M356.5 466.9h0M359.5 464.5h0M349.2 473.6h0M361.9 465.3h0M360.5 463.9h0M362.2 466.4h0M365.7 469.0h0M359.7 466.0h0M366.5 468.9h0M357.5 468.1h0M351.8 471.3h0M355.4 468.9h0M359.0 466.5h0M357.3 468.4h0M355.6 468.5h0M361.3 466.2h0M358.2 467.7h0M361.7 464.8h0M364.4 467.5h0M358.2 467.6h0M356.0 466.7h0M354.2 470.6h0M357.6 466.5h0M362.5 467.1h0M358.1 466.6h0M359.4 466.4h0M359.0 464.3h0M358.1 465.6h0M349.9 473.7h0M361.5 465.9h0M355.9 466.7h0M359.7 464.3h0M363.6 466.9h0M361.7 465.4h0M357.0 468.2h0M365.1 467.9h0M365.5 468.8h0M367.3 470.0h0M355.3 469.6h0M361.0 465.5h0M357.7 467.8h0M361.8 465.9h0M358.3 466.0h0M365.7 467.9h0M352.0 469.6h0M346.4 474.1h0M365.3 466.8h0M355.1 469.5h0M359.0 465.1h0M363.9 466.7h0M364.0 465.4h0M353.8 470.7h0M354.2 470.7h0M352.9 471.6h0M363.5 467.1h0M366.2 468.6h0M365.7 468.5h0M351.0 470.5h0M361.4 464.9h0M355.4 467.5h0M358.7 467.4h0M359.9 464.6h0M365.2 467.1h0M366.1 468.6h0M353.0 471.4h0M354.6 468.0h0M366.7 467.4h0M351.3 472.1h0M364.0 467.3h0M367.5 469.9h0M360.9 464.9h0M352.6 469.3h0M363.2 465.2h0M356.5 468.1h0M369.9 471.3h0M358.3 467.3h0M350.6 473.1h0M364.2 468.4h0M363.7 466.9h0M364.0 465.5h0M359.3 466.6h0M363.4 466.0h0M358.8 467.2h0M354.7 468.4h0M360.1 465.9h0M361.7 466.5h0M357.1 466.3h0M361.6 465.1h0M363.7 466.6h0M363.1 464.7h0M358.8 466.2h0M364.1 466.3h0M369.5 472.1h0M358.8 467.3h0M362.8 465.4h0M362.1 465.3h0M367.5 470.3h0M367.6 468.5h0M365.4 468.7h0M350.1 471.1h0M361.9 466.5h0M353.7 468.6h0M357.0 468.5h0M355.9 468.2h0M361.1 463.3h0M361.0 465.5h0M359.5 465.9h0M353.2 470.3h0M365.1 468.2h0M360.6 464.6h0M368.4 470.0h0M357.9 465.9h0M366.3 468.7h0M368.7 470.5h0M360.8 464.3h0M363.7 466.8h0M367.2 467.9h0M368.0 468.4h0M360.6 463.3h0M350.3 471.0h0M355.6 467.7h0M371.1 473.4h0M363.2 467.8h0M358.0 466.8h0M347.4 474.7h0M363.7 467.1h0M359.5 465.4h0M357.4 468.1h0M358.2 467.2h0M367.2 469.6h0M364.7 467.2h0M353.5 470.4h0M360.7 463.9h0M351.9 469.9h0M348.8 472.8h0M365.8 469.4h0M366.8 470.0h0M361.9 466.2h0M360.6 465.5h0M354.6 469.7h0M359.0 466.8h0M359.1 464.5h0M356.7 466.5h0M365.4 466.8h0M362.1 466.1h0M358.7 465.9h0M361.1 463.9h0M357.9 467.5h0M359.5 466.3h0M385.4 471.7h0M376.9 471.9h0M376.9 473.1h0M373.5 473.7h0M381.1 472.0h0M374.1 474.2h0M381.8 469.7h0M386.5 471.9h0M392.8 474.5h0M379.1 471.2h0M381.7 470.0h0M385.6 472.3h0M379.8 472.6h0M381.9 469.9h0M389.8 473.6h0M386.7 472.2h0M379.8 470.8h0M382.7 472.3h0M394.2 476.4h0M375.4 472.9h0M383.3 470.6h0M385.3 472.3h0M383.2 471.9h0M386.5 472.3h0M380.6 471.6h0M381.2 470.0h0M391.7 475.7h0M384.2 471.3h0M380.7 470.6h0M378.8 472.9h0M386.9 472.5h0M396.6 474.1h0M382.4 472.2h0M382.8 471.8h0M378.1 471.7h0M395.6 475.3h0M373.7 474.1h0M376.2 472.8h0M375.8 472.2h0M390.0 472.8h0M383.8 470.5h0M387.3 472.9h0M386.1 473.6h0M386.5 473.6h0M373.8 473.8h0M386.6 473.0h0M375.2 472.5h0M383.7 470.9h0M381.5 471.8h0M377.5 472.4h0M394.0 476.1h0M376.2 472.2h0M379.8 470.4h0M384.6 472.6h0M390.6 474.8h0M380.3 471.2h0M386.5 473.0h0M380.4 472.2h0M381.5 470.1h0M390.3 474.5h0M386.9 473.3h0M383.8 471.5h0M380.0 471.3h0M389.9 474.7h0M377.8 471.8h0M395.2 475.4h0M391.3 474.5h0M387.4 473.1h0M375.4 472.3h0M421.5 383.2h0M397.5 421.4h0M399.4 423.2h0M408.3 422.3h0M416.6 421.7h0M397.5 431.0h0M405.5 431.0h0M407.7 437.7h0M404.0 443.8h0M409.2 446.3h0M413.0 449.0h0M423.0 447.5h0M411.4 454.0h0M397.0 455.2h0M413.8 460.8h0M399.4 463.0h0M406.0 465.0h0M409.0 462.0h0M403.0 470.0h0M418.0 472.0h0M425.0 473.0h0M324.5 416.0h0M322.0 448.0h0M319.0 460.0h0" fill="none" stroke="#1a1a1a" stroke-width="1.40" stroke-linecap="round"/>
<path d="M373.5 475.2h0M373.6 475.2h0M372.8 476.1h0M372.8 475.7h0M370.5 474.4h0M373.0 475.8h0M374.7 474.1h0M374.3 474.1h0M370.6 474.6h0M372.3 476.3h0M374.5 474.2h0M370.3 474.2h0" fill="none" stroke="#d82c1c" stroke-width="1.70" stroke-linecap="round"/>
<path d="M340.5 364.2h0M323.2 375.8h0M324.5 378.8h0M331.8 385.8h0M345.5 413.0h0M319.5 422.0h0M321.2 425.0h0M327.5 425.0h0M330.5 428.8h0M331.2 431.2h0M332.5 436.2h0M339.5 437.5h0M351.2 428.8h0M353.8 430.0h0M316.2 435.8h0M331.2 443.0h0M338.8 450.0h0M348.8 447.5h0M352.0 446.2h0M359.5 450.0h0M356.0 464.6h0M361.0 464.3h0M364.6 469.0h0M366.3 471.5h0M353.4 467.0h0M358.5 462.5h0M363.0 466.5h0M360.0 468.0h0" fill="none" stroke="#d82c1c" stroke-width="2.60" stroke-linecap="round"/>
<line x1="331.30" y1="433.00" x2="434.80" y2="428.50" stroke="#555" stroke-width="0.7"/>
<text x="338.10" y="362.40" font-style="italic" text-anchor="end">BAHCC1</text>
<text x="318.90" y="376.90" font-style="italic" text-anchor="end">HOXA10</text>
<text x="321.40" y="384.90" font-style="italic" text-anchor="end">MEIS1</text>
<text x="329.60" y="393.15" font-style="italic" text-anchor="end">HOXB3</text>
<text x="317.10" y="421.65" font-style="italic" text-anchor="end">HOXA13</text>
<text x="318.90" y="429.90" font-style="italic" text-anchor="end">HOXA11</text>
<text x="313.90" y="438.15" font-style="italic" text-anchor="end">HOXA9</text>
<text x="328.10" y="445.40" font-style="italic" text-anchor="end">CDKN2C</text>
<text x="336.40" y="452.40" font-style="italic" text-anchor="end">LINC00899</text>
<text x="325.60" y="469.15" font-style="italic" text-anchor="end">HOXB2</text>
<text x="437.00" y="416.10" font-style="italic">LHX2</text>
<text x="437.00" y="425.40" font-style="italic">UNCX</text>
<text x="437.00" y="434.60" font-style="italic">ISL2</text>
<text x="437.00" y="444.00" font-style="italic">HOTTIP</text>
<line x1="58.00" y1="530.30" x2="58.00" y2="645.10" stroke="#161616" stroke-width="1.2"/>
<line x1="57.40" y1="644.50" x2="229.00" y2="644.50" stroke="#161616" stroke-width="1.2"/>
<line x1="53.00" y1="644.50" x2="58.00" y2="644.50" stroke="#161616" stroke-width="1.0"/>
<text x="51.20" y="647.20" text-anchor="end">0</text>
<line x1="53.00" y1="616.08" x2="58.00" y2="616.08" stroke="#161616" stroke-width="1.0"/>
<text x="51.20" y="618.78" text-anchor="end">500</text>
<line x1="53.00" y1="587.65" x2="58.00" y2="587.65" stroke="#161616" stroke-width="1.0"/>
<text x="51.20" y="590.35" text-anchor="end">1,000</text>
<line x1="53.00" y1="559.22" x2="58.00" y2="559.22" stroke="#161616" stroke-width="1.0"/>
<text x="51.20" y="561.92" text-anchor="end">1,500</text>
<line x1="53.00" y1="530.80" x2="58.00" y2="530.80" stroke="#161616" stroke-width="1.0"/>
<text x="51.20" y="533.50" text-anchor="end">2,000</text>
<line x1="81.20" y1="644.50" x2="81.20" y2="649.50" stroke="#161616" stroke-width="1.0"/>
<text x="81.20" y="657.90" text-anchor="middle">TSS</text>
<line x1="185.80" y1="644.50" x2="185.80" y2="649.50" stroke="#161616" stroke-width="1.0"/>
<text x="185.80" y="657.90" text-anchor="middle">TES</text>
<text x="138.40" y="523.90" text-anchor="middle" font-size="7.6">NPM1c target genes</text>
<text transform="translate(27.20,588.2) rotate(-90)" text-anchor="middle">Mean reads/kb</text>
<polyline fill="none" stroke="#8fd07c" stroke-width="0.75" stroke-linejoin="round" points="59.2,632.9 62.6,627.9 66.0,622.4 69.2,624.5 73.0,626.8 76.2,623.9 78.1,615.1 79.6,587.5 81.1,560.7 83.0,583.2 84.9,605.7 87.6,613.0 89.7,617.5 91.0,613.7 93.8,620.6 97.0,622.6 101.4,625.5 104.8,625.0 107.0,626.2 109.9,625.8 113.7,630.2 119.4,626.2 123.2,629.7 127.9,628.8 132.3,622.0 135.5,624.2 139.3,629.2 145.8,627.0 153.5,631.7 156.3,629.9 162.1,632.2 168.8,630.5 175.6,631.7 178.5,633.9 181.3,630.4 185.8,632.4 188.1,625.5 191.0,619.9 194.8,619.6 197.7,617.3 200.0,622.1 202.5,614.6 204.4,620.8 207.3,612.0"/>
<polyline fill="none" stroke="#45963a" stroke-width="0.75" stroke-linejoin="round" points="59.2,633.9 62.6,628.2 66.0,623.1 69.2,624.4 73.0,626.3 76.2,625.4 78.1,615.9 79.6,587.5 81.1,561.0 83.0,583.7 84.9,604.5 87.6,612.5 89.7,615.9 91.0,613.0 93.8,619.7 97.0,623.5 101.4,625.4 104.8,623.5 107.0,625.4 109.9,624.4 113.7,628.8 119.4,627.3 123.2,629.2 127.9,628.2 132.3,622.5 135.5,626.3 139.3,628.8 145.8,626.9 153.5,630.8 156.3,627.9 162.1,630.4 168.8,627.9 175.6,630.8 178.5,632.3 181.3,629.8 185.8,630.4 188.1,623.0 191.0,620.2 194.8,621.2 197.7,619.2 200.0,621.2 202.5,614.4 204.4,620.2 207.3,612.5"/>
<polyline fill="none" stroke="#362e35" stroke-width="0.8" stroke-linejoin="round" points="59.2,625.4 62.6,618.8 66.0,612.5 69.2,614.0 73.0,618.2 75.8,617.8 77.7,612.1 79.2,581.8 81.1,538.3 83.0,562.9 85.3,585.6 88.1,596.0 91.0,599.8 93.8,608.3 96.7,612.1 100.5,615.5 102.3,615.0 104.8,611.2 108.0,613.0 111.8,615.9 115.6,619.3 119.4,615.5 121.3,617.8 123.2,616.5 127.9,619.1 132.3,609.7 135.5,613.0 138.3,617.8 141.2,618.8 145.8,615.4 153.5,621.2 156.3,615.8 162.1,621.2 168.8,618.3 175.6,624.6 179.4,623.5 181.3,626.0 185.8,625.0 188.1,615.4 191.0,610.6 194.8,609.0 197.7,610.0 199.6,606.7 201.2,609.0 203.1,602.9 204.6,608.0 207.3,601.5"/>
<line x1="144.20" y1="546.80" x2="157.00" y2="546.80" stroke="#41373f" stroke-width="0.8"/>
<text x="160.80" y="549.00">DMSO</text>
<line x1="144.20" y1="562.90" x2="157.00" y2="562.90" stroke="#8fd07c" stroke-width="0.8"/>
<text x="160.80" y="565.10">30 min dTAG-13</text>
<line x1="144.20" y1="578.80" x2="157.00" y2="578.80" stroke="#45963a" stroke-width="0.8"/>
<text x="160.80" y="581.00">60 min dTAG-13</text>
<line x1="305.50" y1="530.80" x2="305.50" y2="645.10" stroke="#161616" stroke-width="1.2"/>
<line x1="304.90" y1="644.50" x2="476.50" y2="644.50" stroke="#161616" stroke-width="1.2"/>
<line x1="300.50" y1="644.50" x2="305.50" y2="644.50" stroke="#161616" stroke-width="1.0"/>
<text x="298.70" y="647.20" text-anchor="end">0</text>
<line x1="300.50" y1="621.86" x2="305.50" y2="621.86" stroke="#161616" stroke-width="1.0"/>
<text x="298.70" y="624.56" text-anchor="end">200</text>
<line x1="300.50" y1="599.22" x2="305.50" y2="599.22" stroke="#161616" stroke-width="1.0"/>
<text x="298.70" y="601.92" text-anchor="end">400</text>
<line x1="300.50" y1="576.58" x2="305.50" y2="576.58" stroke="#161616" stroke-width="1.0"/>
<text x="298.70" y="579.28" text-anchor="end">600</text>
<line x1="300.50" y1="553.94" x2="305.50" y2="553.94" stroke="#161616" stroke-width="1.0"/>
<text x="298.70" y="556.64" text-anchor="end">800</text>
<line x1="300.50" y1="531.30" x2="305.50" y2="531.30" stroke="#161616" stroke-width="1.0"/>
<text x="298.70" y="534.00" text-anchor="end">1,000</text>
<line x1="329.00" y1="644.50" x2="329.00" y2="649.50" stroke="#161616" stroke-width="1.0"/>
<text x="329.00" y="657.90" text-anchor="middle">TSS</text>
<line x1="433.90" y1="644.50" x2="433.90" y2="649.50" stroke="#161616" stroke-width="1.0"/>
<text x="433.90" y="657.90" text-anchor="middle">TES</text>
<text x="381.40" y="523.90" text-anchor="middle" font-size="7.6">Non-NPM1c target genes</text>
<text transform="translate(275.60,588.2) rotate(-90)" text-anchor="middle">Mean reads/kb</text>
<polyline fill="none" stroke="#5aa04a" stroke-width="1.0" stroke-linejoin="round" points="307.5,641.8 312.0,641.0 316.2,640.0 319.5,638.2 322.5,635.0 324.2,631.5 325.5,627.5 326.4,621.0 327.0,612.5 327.6,595.0 328.1,575.0 329.0,541.2 329.9,575.0 330.5,592.0 331.2,605.0 332.0,614.0 333.0,620.0 334.5,624.5 336.2,627.5 338.5,630.0 341.2,632.0 345.0,633.8 350.0,635.0 357.0,636.1 365.0,636.8 378.0,637.3 390.0,637.5 407.0,637.0 423.0,636.0 433.0,635.1 434.2,634.2 435.2,632.7 436.5,630.0 437.9,627.9 439.5,626.3 441.4,625.4 444.0,625.1 447.3,625.2 452.2,625.7 455.4,627.0"/>
<polyline fill="none" stroke="#262626" stroke-width="0.7" stroke-linejoin="round" points="307.5,641.8 312.0,641.0 316.2,640.0 319.5,638.2 322.5,635.0 324.2,631.5 325.5,627.5 326.4,621.0 327.0,612.5 327.6,595.0 328.1,575.0 329.0,541.2 329.9,575.0 330.5,592.0 331.2,605.0 332.0,614.0 333.0,620.0 334.5,624.5 336.2,627.5 338.5,630.0 341.2,632.0 345.0,633.8 350.0,635.0 357.0,636.1 365.0,636.8 378.0,637.3 390.0,637.5 407.0,637.0 423.0,636.0 433.0,635.1 434.2,634.2 435.2,632.7 436.5,630.0 437.9,627.9 439.5,626.3 441.4,625.4 444.0,625.1 447.3,625.2 452.2,625.7 455.4,627.0"/>
</svg>
</body></html>
